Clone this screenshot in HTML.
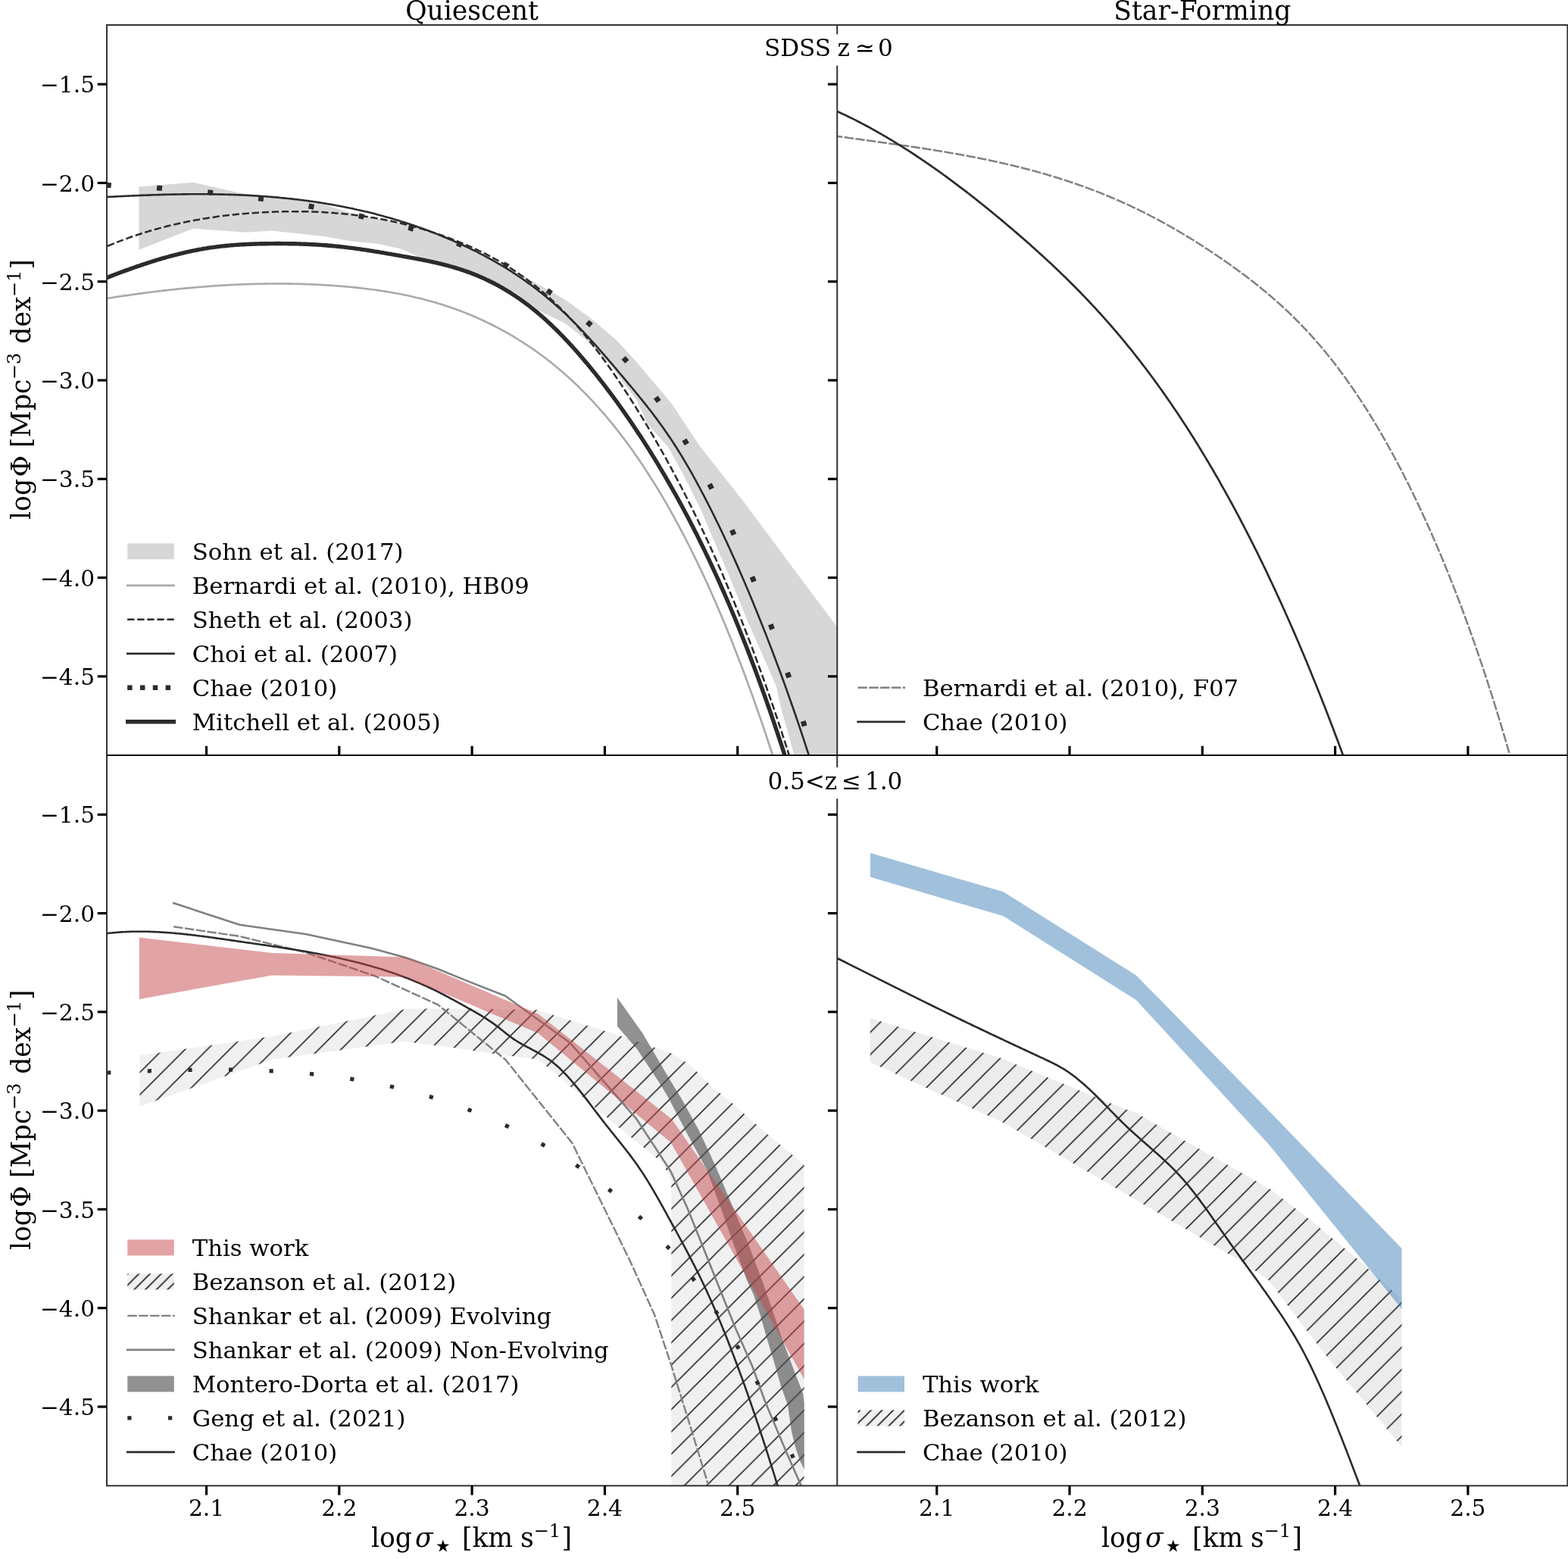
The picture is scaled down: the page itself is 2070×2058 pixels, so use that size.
<!DOCTYPE html>
<html><head><meta charset="utf-8"><title>Velocity dispersion functions</title>
<style>html,body{margin:0;padding:0;background:#fff;} body{width:2070px;height:2058px;overflow:hidden;}</style>
</head><body>
<svg width="2070" height="2058" viewBox="0 0 2070 2058" style="display:block">
<rect x="0" y="0" width="2070" height="2058" fill="#ffffff"/>
<defs>
<clipPath id="cTL"><rect x="141.0" y="33.0" width="964.2" height="964.1"/></clipPath>
<clipPath id="cTR"><rect x="1105.2" y="33.0" width="964.2" height="964.1"/></clipPath>
<clipPath id="cBL"><rect x="141.0" y="997.1" width="964.2" height="964.2"/></clipPath>
<clipPath id="cBR"><rect x="1105.2" y="997.1" width="964.2" height="964.2"/></clipPath>
<pattern id="hatch" patternUnits="userSpaceOnUse" width="29.4" height="29.4" x="12.7" y="0"><rect width="29.4" height="29.4" fill="#f0f0f0"/><path d="M-14.7 14.7 L14.7 -14.7 M0 29.4 L29.4 0 M14.7 44.099999999999994 L44.099999999999994 14.7" stroke="#111" stroke-width="1.5"/></pattern>
<pattern id="hatch2" patternUnits="userSpaceOnUse" width="29.4" height="29.4" x="12.7" y="0"><rect width="29.4" height="29.4" fill="#ececec"/><path d="M-14.7 14.7 L14.7 -14.7 M0 29.4 L29.4 0 M14.7 44.099999999999994 L44.099999999999994 14.7" stroke="#111" stroke-width="1.5"/></pattern>
<pattern id="hatchL" patternUnits="userSpaceOnUse" width="14.7" height="14.7" x="12.7" y="0"><rect width="14.7" height="14.7" fill="#f0f0f0"/><path d="M-7.35 7.35 L7.35 -7.35 M0 14.7 L14.7 0 M7.35 22.049999999999997 L22.049999999999997 7.35" stroke="#1a1a1a" stroke-width="1.6"/></pattern>
</defs>
<g clip-path="url(#cTL)">
<path d="M183.4 246.4 L254.8 240.8 L322.8 256.1 L358.0 259.5 L429.0 270.0 L466.3 282.5 L530.0 294.3 L602.0 318.0 L664.0 350.0 L721.2 381.2 L745.0 395.0 L779.9 419.9 L814.9 449.9 L840.0 477.4 L887.4 533.7 L923.7 588.7 L980.0 659.9 L1002.4 690.0 L1060.0 767.4 L1110.0 834.0 L1110.0 1000.0 L1048.3 1000.0 L1048.3 996.6 L1029.9 930.0 L1025.0 906.6 L1012.4 877.4 L995.8 840.0 L987.4 821.2 L962.5 760.0 L938.7 704.8 L926.2 674.9 L904.0 629.9 L882.0 589.9 L855.0 560.0 L840.0 527.4 L804.9 481.1 L773.7 448.7 L745.0 426.2 L711.2 410.0 L680.0 386.2 L635.9 367.0 L592.5 353.2 L556.2 340.6 L530.0 328.8 L498.0 321.7 L464.4 318.5 L427.1 312.0 L358.2 304.5 L324.7 306.8 L254.8 301.7 L183.4 329.7 Z" fill="#d7d7d7" stroke="none" />
<path d="M130.0 395.7 L132.0 395.4 L134.0 395.1 L136.0 394.8 L138.0 394.4 L140.0 394.1 L142.0 393.8 L144.0 393.5 L146.0 393.2 L148.0 392.9 L150.0 392.5 L152.0 392.2 L154.0 391.9 L156.0 391.6 L158.0 391.3 L160.0 391.0 L162.0 390.7 L164.0 390.4 L166.0 390.1 L168.0 389.9 L170.0 389.6 L172.0 389.3 L174.0 389.0 L176.0 388.7 L178.0 388.4 L180.0 388.2 L182.0 387.9 L184.0 387.6 L186.0 387.4 L188.0 387.1 L190.0 386.8 L192.0 386.6 L194.0 386.3 L196.0 386.0 L198.0 385.8 L200.0 385.5 L202.0 385.3 L204.0 385.0 L206.0 384.8 L208.0 384.6 L210.0 384.3 L212.0 384.1 L214.0 383.8 L216.0 383.6 L218.0 383.4 L220.0 383.2 L222.0 382.9 L224.0 382.7 L226.0 382.5 L228.0 382.3 L230.0 382.1 L232.0 381.8 L234.0 381.6 L236.0 381.4 L238.0 381.2 L240.0 381.0 L242.0 380.8 L244.0 380.6 L246.0 380.4 L248.0 380.3 L250.0 380.1 L252.0 379.9 L254.0 379.7 L256.0 379.5 L258.0 379.4 L260.0 379.2 L262.0 379.0 L264.0 378.8 L266.0 378.7 L268.0 378.5 L270.0 378.4 L272.0 378.2 L274.0 378.1 L276.0 377.9 L278.0 377.8 L280.0 377.6 L282.0 377.5 L284.0 377.3 L286.0 377.2 L288.0 377.1 L290.0 376.9 L292.0 376.8 L294.0 376.7 L296.0 376.6 L298.0 376.5 L300.0 376.4 L302.0 376.2 L304.0 376.1 L306.0 376.0 L308.0 375.9 L310.0 375.8 L312.0 375.7 L314.0 375.7 L316.0 375.6 L318.0 375.5 L320.0 375.4 L322.0 375.3 L324.0 375.2 L326.0 375.2 L328.0 375.1 L330.0 375.0 L332.0 375.0 L334.0 374.9 L336.0 374.9 L338.0 374.8 L340.0 374.8 L342.0 374.7 L344.0 374.7 L346.0 374.7 L348.0 374.6 L350.0 374.6 L352.0 374.6 L354.0 374.5 L356.0 374.5 L358.0 374.5 L360.0 374.5 L362.0 374.5 L364.0 374.5 L366.0 374.5 L368.0 374.5 L370.0 374.5 L372.0 374.5 L374.0 374.5 L376.0 374.5 L378.0 374.5 L380.0 374.6 L382.0 374.6 L384.0 374.6 L386.0 374.7 L388.0 374.7 L390.0 374.7 L392.0 374.8 L394.0 374.8 L396.0 374.9 L398.0 374.9 L400.0 375.0 L402.0 375.1 L404.0 375.1 L406.0 375.2 L408.0 375.3 L410.0 375.4 L412.0 375.4 L414.0 375.5 L416.0 375.6 L418.0 375.7 L420.0 375.8 L422.0 375.9 L424.0 376.0 L426.0 376.1 L428.0 376.3 L430.0 376.4 L432.0 376.5 L434.0 376.6 L436.0 376.8 L438.0 376.9 L440.0 377.0 L442.0 377.2 L444.0 377.3 L446.0 377.5 L448.0 377.6 L450.0 377.8 L452.0 378.0 L454.0 378.1 L456.0 378.3 L458.0 378.5 L460.0 378.7 L462.0 378.8 L464.0 379.0 L466.0 379.2 L468.0 379.4 L470.0 379.6 L472.0 379.8 L474.0 380.1 L476.0 380.3 L478.0 380.5 L480.0 380.7 L482.0 381.0 L484.0 381.2 L486.0 381.5 L488.0 381.7 L490.0 382.0 L492.0 382.2 L494.0 382.5 L496.0 382.8 L498.0 383.1 L500.0 383.4 L502.0 383.7 L504.0 384.0 L506.0 384.3 L508.0 384.6 L510.0 384.9 L512.0 385.2 L514.0 385.6 L516.0 385.9 L518.0 386.3 L520.0 386.6 L522.0 387.0 L524.0 387.3 L526.0 387.7 L528.0 388.1 L530.0 388.5 L532.0 388.9 L534.0 389.3 L536.0 389.7 L538.0 390.1 L540.0 390.6 L542.0 391.0 L544.0 391.5 L546.0 391.9 L548.0 392.4 L550.0 392.9 L552.0 393.3 L554.0 393.8 L556.0 394.3 L558.0 394.8 L560.0 395.3 L562.0 395.9 L564.0 396.4 L566.0 396.9 L568.0 397.5 L570.0 398.1 L572.0 398.6 L574.0 399.2 L576.0 399.8 L578.0 400.4 L580.0 401.0 L582.0 401.6 L584.0 402.2 L586.0 402.9 L588.0 403.5 L590.0 404.2 L592.0 404.8 L594.0 405.5 L596.0 406.2 L598.0 406.9 L600.0 407.6 L602.0 408.3 L604.0 409.1 L606.0 409.8 L608.0 410.6 L610.0 411.3 L612.0 412.1 L614.0 412.9 L616.0 413.7 L618.0 414.5 L620.0 415.3 L622.0 416.1 L624.0 417.0 L626.0 417.8 L628.0 418.7 L630.0 419.6 L632.0 420.5 L634.0 421.4 L636.0 422.3 L638.0 423.2 L640.0 424.1 L642.0 425.1 L644.0 426.1 L646.0 427.0 L648.0 428.0 L650.0 429.0 L652.0 430.0 L654.0 431.1 L656.0 432.1 L658.0 433.1 L660.0 434.2 L662.0 435.3 L664.0 436.4 L666.0 437.5 L668.0 438.6 L670.0 439.7 L672.0 440.9 L674.0 442.0 L676.0 443.2 L678.0 444.4 L680.0 445.6 L682.0 446.8 L684.0 448.0 L686.0 449.3 L688.0 450.5 L690.0 451.8 L692.0 453.1 L694.0 454.4 L696.0 455.7 L698.0 457.0 L700.0 458.4 L702.0 459.8 L704.0 461.1 L706.0 462.5 L708.0 464.0 L710.0 465.4 L712.0 466.8 L714.0 468.3 L716.0 469.8 L718.0 471.3 L720.0 472.8 L722.0 474.3 L724.0 475.9 L726.0 477.4 L728.0 479.0 L730.0 480.6 L732.0 482.2 L734.0 483.9 L736.0 485.5 L738.0 487.2 L740.0 488.9 L742.0 490.6 L744.0 492.4 L746.0 494.1 L748.0 495.9 L750.0 497.7 L752.0 499.5 L754.0 501.3 L756.0 503.2 L758.0 505.1 L760.0 507.0 L762.0 508.9 L764.0 510.8 L766.0 512.8 L768.0 514.8 L770.0 516.8 L772.0 518.8 L774.0 520.8 L776.0 522.9 L778.0 525.0 L780.0 527.1 L782.0 529.2 L784.0 531.4 L786.0 533.6 L788.0 535.8 L790.0 538.0 L792.0 540.3 L794.0 542.5 L796.0 544.8 L798.0 547.2 L800.0 549.5 L802.0 551.9 L804.0 554.3 L806.0 556.7 L808.0 559.1 L810.0 561.6 L812.0 564.1 L814.0 566.6 L816.0 569.2 L818.0 571.8 L820.0 574.4 L822.0 577.0 L824.0 579.6 L826.0 582.3 L828.0 585.0 L830.0 587.7 L832.0 590.5 L834.0 593.3 L836.0 596.1 L838.0 598.9 L840.0 601.8 L842.0 604.7 L844.0 607.6 L846.0 610.6 L848.0 613.5 L850.0 616.6 L852.0 619.6 L854.0 622.7 L856.0 625.7 L858.0 628.9 L860.0 632.0 L862.0 635.2 L864.0 638.4 L866.0 641.7 L868.0 644.9 L870.0 648.2 L872.0 651.6 L874.0 654.9 L876.0 658.3 L878.0 661.8 L880.0 665.2 L882.0 668.7 L884.0 672.2 L886.0 675.8 L888.0 679.4 L890.0 683.0 L892.0 686.6 L894.0 690.3 L896.0 694.0 L898.0 697.8 L900.0 701.6 L902.0 705.4 L904.0 709.2 L906.0 713.1 L908.0 717.0 L910.0 721.0 L912.0 725.0 L914.0 729.0 L916.0 733.0 L918.0 737.1 L920.0 741.3 L922.0 745.4 L924.0 749.6 L926.0 753.9 L928.0 758.1 L930.0 762.4 L932.0 766.8 L934.0 771.1 L936.0 775.6 L938.0 780.0 L940.0 784.5 L942.0 789.0 L944.0 793.6 L946.0 798.2 L948.0 802.8 L950.0 807.5 L952.0 812.2 L954.0 817.0 L956.0 821.8 L958.0 826.6 L960.0 831.5 L962.0 836.4 L964.0 841.3 L966.0 846.3 L968.0 851.4 L970.0 856.4 L972.0 861.5 L974.0 866.7 L976.0 871.9 L978.0 877.1 L980.0 882.4 L982.0 887.7 L984.0 893.0 L986.0 898.4 L988.0 903.9 L990.0 909.4 L992.0 914.9 L994.0 920.4 L996.0 926.1 L998.0 931.7 L1000.0 937.4 L1002.0 943.1 L1004.0 948.9 L1006.0 954.7 L1008.0 960.6 L1010.0 966.5 L1012.0 972.5 L1014.0 978.5 L1016.0 984.5 L1018.0 990.6 L1020.0 996.7 L1022.0 1002.9 L1024.0 1009.1 L1026.0 1015.4 L1028.0 1021.7" fill="none" stroke="#a9a9a9" stroke-width="2.6" stroke-linejoin="round" />
<path d="M130.0 330.0 L132.0 329.1 L134.0 328.2 L136.0 327.4 L138.0 326.5 L140.0 325.6 L142.0 324.8 L144.0 324.0 L146.0 323.1 L148.0 322.3 L150.0 321.5 L152.0 320.7 L154.0 319.9 L156.0 319.1 L158.0 318.4 L160.0 317.6 L162.0 316.9 L164.0 316.1 L166.0 315.4 L168.0 314.7 L170.0 313.9 L172.0 313.2 L174.0 312.5 L176.0 311.8 L178.0 311.2 L180.0 310.5 L182.0 309.8 L184.0 309.2 L186.0 308.5 L188.0 307.9 L190.0 307.3 L192.0 306.6 L194.0 306.0 L196.0 305.4 L198.0 304.8 L200.0 304.2 L202.0 303.7 L204.0 303.1 L206.0 302.5 L208.0 302.0 L210.0 301.4 L212.0 300.9 L214.0 300.4 L216.0 299.8 L218.0 299.3 L220.0 298.8 L222.0 298.3 L224.0 297.8 L226.0 297.3 L228.0 296.9 L230.0 296.4 L232.0 295.9 L234.0 295.5 L236.0 295.0 L238.0 294.6 L240.0 294.1 L242.0 293.7 L244.0 293.3 L246.0 292.9 L248.0 292.5 L250.0 292.1 L252.0 291.7 L254.0 291.3 L256.0 290.9 L258.0 290.6 L260.0 290.2 L262.0 289.9 L264.0 289.5 L266.0 289.2 L268.0 288.8 L270.0 288.5 L272.0 288.2 L274.0 287.9 L276.0 287.6 L278.0 287.3 L280.0 287.0 L282.0 286.7 L284.0 286.4 L286.0 286.1 L288.0 285.8 L290.0 285.6 L292.0 285.3 L294.0 285.0 L296.0 284.8 L298.0 284.6 L300.0 284.3 L302.0 284.1 L304.0 283.9 L306.0 283.7 L308.0 283.4 L310.0 283.2 L312.0 283.0 L314.0 282.8 L316.0 282.6 L318.0 282.5 L320.0 282.3 L322.0 282.1 L324.0 281.9 L326.0 281.8 L328.0 281.6 L330.0 281.5 L332.0 281.3 L334.0 281.2 L336.0 281.0 L338.0 280.9 L340.0 280.8 L342.0 280.6 L344.0 280.5 L346.0 280.4 L348.0 280.3 L350.0 280.2 L352.0 280.1 L354.0 280.0 L356.0 279.9 L358.0 279.8 L360.0 279.7 L362.0 279.7 L364.0 279.6 L366.0 279.5 L368.0 279.5 L370.0 279.4 L372.0 279.4 L374.0 279.3 L376.0 279.3 L378.0 279.2 L380.0 279.2 L382.0 279.2 L384.0 279.2 L386.0 279.2 L388.0 279.2 L390.0 279.2 L392.0 279.2 L394.0 279.2 L396.0 279.2 L398.0 279.2 L400.0 279.2 L402.0 279.3 L404.0 279.3 L406.0 279.3 L408.0 279.4 L410.0 279.5 L412.0 279.5 L414.0 279.6 L416.0 279.7 L418.0 279.7 L420.0 279.8 L422.0 279.9 L424.0 280.0 L426.0 280.1 L428.0 280.2 L430.0 280.4 L432.0 280.5 L434.0 280.6 L436.0 280.7 L438.0 280.9 L440.0 281.0 L442.0 281.2 L444.0 281.4 L446.0 281.5 L448.0 281.7 L450.0 281.9 L452.0 282.1 L454.0 282.3 L456.0 282.5 L458.0 282.7 L460.0 282.9 L462.0 283.1 L464.0 283.3 L466.0 283.6 L468.0 283.8 L470.0 284.1 L472.0 284.3 L474.0 284.6 L476.0 284.9 L478.0 285.1 L480.0 285.4 L482.0 285.7 L484.0 286.0 L486.0 286.3 L488.0 286.6 L490.0 287.0 L492.0 287.3 L494.0 287.6 L496.0 288.0 L498.0 288.3 L500.0 288.7 L502.0 289.0 L504.0 289.4 L506.0 289.8 L508.0 290.2 L510.0 290.6 L512.0 291.0 L514.0 291.4 L516.0 291.8 L518.0 292.3 L520.0 292.7 L522.0 293.1 L524.0 293.6 L526.0 294.0 L528.0 294.5 L530.0 295.0 L532.0 295.5 L534.0 296.0 L536.0 296.5 L538.0 297.0 L540.0 297.5 L542.0 298.0 L544.0 298.5 L546.0 299.1 L548.0 299.6 L550.0 300.2 L552.0 300.7 L554.0 301.3 L556.0 301.9 L558.0 302.5 L560.0 303.1 L562.0 303.7 L564.0 304.3 L566.0 304.9 L568.0 305.6 L570.0 306.2 L572.0 306.9 L574.0 307.5 L576.0 308.2 L578.0 308.9 L580.0 309.6 L582.0 310.3 L584.0 311.0 L586.0 311.7 L588.0 312.4 L590.0 313.1 L592.0 313.9 L594.0 314.6 L596.0 315.4 L598.0 316.2 L600.0 316.9 L602.0 317.7 L604.0 318.5 L606.0 319.3 L608.0 320.1 L610.0 321.0 L612.0 321.8 L614.0 322.6 L616.0 323.5 L618.0 324.4 L620.0 325.2 L622.0 326.1 L624.0 327.0 L626.0 327.9 L628.0 328.9 L630.0 329.8 L632.0 330.8 L634.0 331.7 L636.0 332.7 L638.0 333.7 L640.0 334.7 L642.0 335.7 L644.0 336.7 L646.0 337.8 L648.0 338.8 L650.0 339.9 L652.0 341.0 L654.0 342.1 L656.0 343.2 L658.0 344.4 L660.0 345.5 L662.0 346.7 L664.0 347.9 L666.0 349.1 L668.0 350.3 L670.0 351.5 L672.0 352.8 L674.0 354.0 L676.0 355.3 L678.0 356.6 L680.0 357.9 L682.0 359.3 L684.0 360.6 L686.0 362.0 L688.0 363.4 L690.0 364.8 L692.0 366.2 L694.0 367.7 L696.0 369.2 L698.0 370.7 L700.0 372.2 L702.0 373.7 L704.0 375.3 L706.0 376.8 L708.0 378.4 L710.0 380.1 L712.0 381.7 L714.0 383.4 L716.0 385.1 L718.0 386.8 L720.0 388.5 L722.0 390.2 L724.0 392.0 L726.0 393.8 L728.0 395.6 L730.0 397.5 L732.0 399.4 L734.0 401.3 L736.0 403.2 L738.0 405.1 L740.0 407.1 L742.0 409.1 L744.0 411.1 L746.0 413.2 L748.0 415.2 L750.0 417.3 L752.0 419.5 L754.0 421.6 L756.0 423.8 L758.0 426.0 L760.0 428.2 L762.0 430.5 L764.0 432.8 L766.0 435.1 L768.0 437.5 L770.0 439.8 L772.0 442.2 L774.0 444.7 L776.0 447.1 L778.0 449.6 L780.0 452.1 L782.0 454.7 L784.0 457.2 L786.0 459.8 L788.0 462.4 L790.0 465.1 L792.0 467.8 L794.0 470.4 L796.0 473.2 L798.0 475.9 L800.0 478.7 L802.0 481.5 L804.0 484.3 L806.0 487.1 L808.0 490.0 L810.0 492.9 L812.0 495.8 L814.0 498.7 L816.0 501.7 L818.0 504.6 L820.0 507.6 L822.0 510.7 L824.0 513.7 L826.0 516.8 L828.0 519.8 L830.0 523.0 L832.0 526.1 L834.0 529.2 L836.0 532.4 L838.0 535.6 L840.0 538.8 L842.0 542.0 L844.0 545.2 L846.0 548.5 L848.0 551.7 L850.0 555.0 L852.0 558.4 L854.0 561.7 L856.0 565.0 L858.0 568.4 L860.0 571.8 L862.0 575.2 L864.0 578.6 L866.0 582.1 L868.0 585.6 L870.0 589.1 L872.0 592.6 L874.0 596.1 L876.0 599.7 L878.0 603.3 L880.0 606.9 L882.0 610.5 L884.0 614.2 L886.0 617.9 L888.0 621.6 L890.0 625.3 L892.0 629.0 L894.0 632.8 L896.0 636.6 L898.0 640.4 L900.0 644.3 L902.0 648.1 L904.0 652.0 L906.0 656.0 L908.0 659.9 L910.0 663.9 L912.0 667.9 L914.0 671.9 L916.0 676.0 L918.0 680.1 L920.0 684.2 L922.0 688.3 L924.0 692.5 L926.0 696.7 L928.0 700.9 L930.0 705.2 L932.0 709.5 L934.0 713.8 L936.0 718.1 L938.0 722.5 L940.0 726.9 L942.0 731.4 L944.0 735.8 L946.0 740.3 L948.0 744.9 L950.0 749.4 L952.0 754.0 L954.0 758.6 L956.0 763.3 L958.0 768.0 L960.0 772.7 L962.0 777.5 L964.0 782.2 L966.0 787.1 L968.0 791.9 L970.0 796.8 L972.0 801.7 L974.0 806.7 L976.0 811.7 L978.0 816.7 L980.0 821.8 L982.0 826.9 L984.0 832.0 L986.0 837.2 L988.0 842.4 L990.0 847.6 L992.0 852.9 L994.0 858.2 L996.0 863.6 L998.0 869.0 L1000.0 874.4 L1002.0 879.9 L1004.0 885.4 L1006.0 890.9 L1008.0 896.5 L1010.0 902.1 L1012.0 907.8 L1014.0 913.5 L1016.0 919.3 L1018.0 925.0 L1020.0 930.9 L1022.0 936.7 L1024.0 942.6 L1026.0 948.6 L1028.0 954.6 L1030.0 960.6 L1032.0 966.7 L1034.0 972.8 L1036.0 978.9 L1038.0 985.1 L1040.0 991.4 L1042.0 997.7 L1044.0 1004.0 L1046.0 1010.4 L1048.0 1016.8 L1050.0 1023.2" fill="none" stroke="#2b2b2b" stroke-width="2.5" stroke-linejoin="round" stroke-dasharray="9.3 3.8" />
<path d="M130.0 260.7 L132.0 260.6 L134.0 260.5 L136.0 260.4 L138.0 260.3 L140.0 260.2 L142.0 260.0 L144.0 259.9 L146.0 259.8 L148.0 259.7 L150.0 259.6 L152.0 259.5 L154.0 259.4 L156.0 259.3 L158.0 259.2 L160.0 259.1 L162.0 259.0 L164.0 258.9 L166.0 258.8 L168.0 258.7 L170.0 258.6 L172.0 258.5 L174.0 258.5 L176.0 258.4 L178.0 258.3 L180.0 258.2 L182.0 258.1 L184.0 258.0 L186.0 257.9 L188.0 257.9 L190.0 257.8 L192.0 257.7 L194.0 257.6 L196.0 257.6 L198.0 257.5 L200.0 257.4 L202.0 257.3 L204.0 257.3 L206.0 257.2 L208.0 257.2 L210.0 257.1 L212.0 257.0 L214.0 257.0 L216.0 256.9 L218.0 256.9 L220.0 256.8 L222.0 256.8 L224.0 256.7 L226.0 256.7 L228.0 256.6 L230.0 256.6 L232.0 256.6 L234.0 256.5 L236.0 256.5 L238.0 256.5 L240.0 256.4 L242.0 256.4 L244.0 256.4 L246.0 256.4 L248.0 256.3 L250.0 256.3 L252.0 256.3 L254.0 256.3 L256.0 256.3 L258.0 256.3 L260.0 256.3 L262.0 256.3 L264.0 256.3 L266.0 256.3 L268.0 256.3 L270.0 256.3 L272.0 256.3 L274.0 256.3 L276.0 256.3 L278.0 256.4 L280.0 256.4 L282.0 256.4 L284.0 256.4 L286.0 256.5 L288.0 256.5 L290.0 256.6 L292.0 256.6 L294.0 256.6 L296.0 256.7 L298.0 256.7 L300.0 256.8 L302.0 256.9 L304.0 256.9 L306.0 257.0 L308.0 257.0 L310.0 257.1 L312.0 257.2 L314.0 257.3 L316.0 257.4 L318.0 257.4 L320.0 257.5 L322.0 257.6 L324.0 257.7 L326.0 257.8 L328.0 257.9 L330.0 258.0 L332.0 258.1 L334.0 258.3 L336.0 258.4 L338.0 258.5 L340.0 258.6 L342.0 258.7 L344.0 258.9 L346.0 259.0 L348.0 259.2 L350.0 259.3 L352.0 259.5 L354.0 259.6 L356.0 259.8 L358.0 259.9 L360.0 260.1 L362.0 260.3 L364.0 260.4 L366.0 260.6 L368.0 260.8 L370.0 261.0 L372.0 261.2 L374.0 261.4 L376.0 261.6 L378.0 261.8 L380.0 262.0 L382.0 262.2 L384.0 262.4 L386.0 262.6 L388.0 262.9 L390.0 263.1 L392.0 263.3 L394.0 263.6 L396.0 263.8 L398.0 264.1 L400.0 264.3 L402.0 264.6 L404.0 264.8 L406.0 265.1 L408.0 265.4 L410.0 265.7 L412.0 265.9 L414.0 266.2 L416.0 266.5 L418.0 266.8 L420.0 267.1 L422.0 267.4 L424.0 267.7 L426.0 268.1 L428.0 268.4 L430.0 268.7 L432.0 269.0 L434.0 269.4 L436.0 269.7 L438.0 270.1 L440.0 270.4 L442.0 270.8 L444.0 271.2 L446.0 271.5 L448.0 271.9 L450.0 272.3 L452.0 272.7 L454.0 273.1 L456.0 273.5 L458.0 273.9 L460.0 274.3 L462.0 274.7 L464.0 275.1 L466.0 275.5 L468.0 276.0 L470.0 276.4 L472.0 276.9 L474.0 277.3 L476.0 277.8 L478.0 278.2 L480.0 278.7 L482.0 279.2 L484.0 279.6 L486.0 280.1 L488.0 280.6 L490.0 281.1 L492.0 281.6 L494.0 282.1 L496.0 282.6 L498.0 283.2 L500.0 283.7 L502.0 284.2 L504.0 284.8 L506.0 285.3 L508.0 285.9 L510.0 286.4 L512.0 287.0 L514.0 287.6 L516.0 288.1 L518.0 288.7 L520.0 289.3 L522.0 289.9 L524.0 290.5 L526.0 291.1 L528.0 291.7 L530.0 292.4 L532.0 293.0 L534.0 293.6 L536.0 294.3 L538.0 294.9 L540.0 295.6 L542.0 296.2 L544.0 296.9 L546.0 297.6 L548.0 298.3 L550.0 299.0 L552.0 299.7 L554.0 300.4 L556.0 301.1 L558.0 301.8 L560.0 302.5 L562.0 303.3 L564.0 304.0 L566.0 304.8 L568.0 305.5 L570.0 306.3 L572.0 307.1 L574.0 307.8 L576.0 308.6 L578.0 309.4 L580.0 310.2 L582.0 311.0 L584.0 311.8 L586.0 312.7 L588.0 313.5 L590.0 314.3 L592.0 315.2 L594.0 316.0 L596.0 316.9 L598.0 317.7 L600.0 318.6 L602.0 319.5 L604.0 320.4 L606.0 321.3 L608.0 322.2 L610.0 323.1 L612.0 324.0 L614.0 325.0 L616.0 325.9 L618.0 326.9 L620.0 327.8 L622.0 328.8 L624.0 329.8 L626.0 330.7 L628.0 331.7 L630.0 332.7 L632.0 333.8 L634.0 334.8 L636.0 335.8 L638.0 336.9 L640.0 337.9 L642.0 339.0 L644.0 340.1 L646.0 341.2 L648.0 342.3 L650.0 343.4 L652.0 344.5 L654.0 345.7 L656.0 346.8 L658.0 348.0 L660.0 349.1 L662.0 350.3 L664.0 351.5 L666.0 352.7 L668.0 354.0 L670.0 355.2 L672.0 356.5 L674.0 357.7 L676.0 359.0 L678.0 360.3 L680.0 361.6 L682.0 362.9 L684.0 364.3 L686.0 365.6 L688.0 367.0 L690.0 368.4 L692.0 369.8 L694.0 371.2 L696.0 372.6 L698.0 374.1 L700.0 375.5 L702.0 377.0 L704.0 378.5 L706.0 380.0 L708.0 381.5 L710.0 383.1 L712.0 384.7 L714.0 386.2 L716.0 387.8 L718.0 389.4 L720.0 391.1 L722.0 392.7 L724.0 394.4 L726.0 396.1 L728.0 397.8 L730.0 399.5 L732.0 401.2 L734.0 403.0 L736.0 404.8 L738.0 406.6 L740.0 408.4 L742.0 410.2 L744.0 412.1 L746.0 413.9 L748.0 415.8 L750.0 417.8 L752.0 419.7 L754.0 421.6 L756.0 423.6 L758.0 425.6 L760.0 427.6 L762.0 429.7 L764.0 431.7 L766.0 433.8 L768.0 435.9 L770.0 438.0 L772.0 440.1 L774.0 442.3 L776.0 444.4 L778.0 446.6 L780.0 448.8 L782.0 451.0 L784.0 453.2 L786.0 455.4 L788.0 457.7 L790.0 459.9 L792.0 462.2 L794.0 464.5 L796.0 466.8 L798.0 469.1 L800.0 471.4 L802.0 473.7 L804.0 476.0 L806.0 478.3 L808.0 480.7 L810.0 483.0 L812.0 485.4 L814.0 487.7 L816.0 490.1 L818.0 492.5 L820.0 494.8 L822.0 497.2 L824.0 499.6 L826.0 502.0 L828.0 504.4 L830.0 506.8 L832.0 509.1 L834.0 511.5 L836.0 514.0 L838.0 516.4 L840.0 518.8 L842.0 521.2 L844.0 523.7 L846.0 526.1 L848.0 528.6 L850.0 531.1 L852.0 533.6 L854.0 536.1 L856.0 538.7 L858.0 541.3 L860.0 543.8 L862.0 546.5 L864.0 549.1 L866.0 551.8 L868.0 554.5 L870.0 557.2 L872.0 559.9 L874.0 562.7 L876.0 565.5 L878.0 568.4 L880.0 571.2 L882.0 574.2 L884.0 577.1 L886.0 580.1 L888.0 583.1 L890.0 586.2 L892.0 589.3 L894.0 592.5 L896.0 595.7 L898.0 598.9 L900.0 602.2 L902.0 605.5 L904.0 608.9 L906.0 612.3 L908.0 615.7 L910.0 619.2 L912.0 622.7 L914.0 626.2 L916.0 629.8 L918.0 633.4 L920.0 637.1 L922.0 640.8 L924.0 644.5 L926.0 648.3 L928.0 652.1 L930.0 655.9 L932.0 659.8 L934.0 663.6 L936.0 667.6 L938.0 671.5 L940.0 675.5 L942.0 679.5 L944.0 683.6 L946.0 687.7 L948.0 691.8 L950.0 695.9 L952.0 700.1 L954.0 704.3 L956.0 708.6 L958.0 712.8 L960.0 717.1 L962.0 721.5 L964.0 725.8 L966.0 730.2 L968.0 734.7 L970.0 739.1 L972.0 743.6 L974.0 748.1 L976.0 752.7 L978.0 757.3 L980.0 761.9 L982.0 766.5 L984.0 771.2 L986.0 775.9 L988.0 780.6 L990.0 785.4 L992.0 790.2 L994.0 795.0 L996.0 799.9 L998.0 804.8 L1000.0 809.7 L1002.0 814.7 L1004.0 819.7 L1006.0 824.7 L1008.0 829.7 L1010.0 834.8 L1012.0 839.9 L1014.0 845.1 L1016.0 850.2 L1018.0 855.4 L1020.0 860.7 L1022.0 866.0 L1024.0 871.3 L1026.0 876.6 L1028.0 882.0 L1030.0 887.4 L1032.0 892.8 L1034.0 898.3 L1036.0 903.8 L1038.0 909.4 L1040.0 915.0 L1042.0 920.6 L1044.0 926.3 L1046.0 932.0 L1048.0 937.7 L1050.0 943.5 L1052.0 949.4 L1054.0 955.2 L1056.0 961.2 L1058.0 967.1 L1060.0 973.1 L1062.0 979.2 L1064.0 985.3 L1066.0 991.4 L1068.0 997.6 L1070.0 1003.8 L1072.0 1010.1 L1074.0 1016.4 L1076.0 1022.8" fill="none" stroke="#2b2b2b" stroke-width="2.6" stroke-linejoin="round" />
<path d="M130.0 370.9 L132.0 370.1 L134.0 369.3 L136.0 368.5 L138.0 367.7 L140.0 367.0 L142.0 366.2 L144.0 365.4 L146.0 364.6 L148.0 363.9 L150.0 363.1 L152.0 362.3 L154.0 361.6 L156.0 360.8 L158.0 360.1 L160.0 359.3 L162.0 358.6 L164.0 357.8 L166.0 357.1 L168.0 356.4 L170.0 355.7 L172.0 354.9 L174.0 354.2 L176.0 353.5 L178.0 352.8 L180.0 352.1 L182.0 351.4 L184.0 350.8 L186.0 350.1 L188.0 349.4 L190.0 348.7 L192.0 348.1 L194.0 347.4 L196.0 346.8 L198.0 346.1 L200.0 345.5 L202.0 344.9 L204.0 344.2 L206.0 343.6 L208.0 343.0 L210.0 342.4 L212.0 341.8 L214.0 341.2 L216.0 340.7 L218.0 340.1 L220.0 339.5 L222.0 339.0 L224.0 338.4 L226.0 337.9 L228.0 337.3 L230.0 336.8 L232.0 336.3 L234.0 335.8 L236.0 335.3 L238.0 334.8 L240.0 334.3 L242.0 333.8 L244.0 333.4 L246.0 332.9 L248.0 332.5 L250.0 332.0 L252.0 331.6 L254.0 331.2 L256.0 330.8 L258.0 330.4 L260.0 330.0 L262.0 329.6 L264.0 329.2 L266.0 328.9 L268.0 328.5 L270.0 328.2 L272.0 327.9 L274.0 327.5 L276.0 327.2 L278.0 326.9 L280.0 326.6 L282.0 326.4 L284.0 326.1 L286.0 325.8 L288.0 325.6 L290.0 325.3 L292.0 325.1 L294.0 324.9 L296.0 324.7 L298.0 324.5 L300.0 324.3 L302.0 324.1 L304.0 323.9 L306.0 323.7 L308.0 323.6 L310.0 323.4 L312.0 323.3 L314.0 323.1 L316.0 323.0 L318.0 322.9 L320.0 322.8 L322.0 322.7 L324.0 322.5 L326.0 322.4 L328.0 322.4 L330.0 322.3 L332.0 322.2 L334.0 322.1 L336.0 322.0 L338.0 322.0 L340.0 321.9 L342.0 321.9 L344.0 321.8 L346.0 321.8 L348.0 321.7 L350.0 321.7 L352.0 321.7 L354.0 321.6 L356.0 321.6 L358.0 321.6 L360.0 321.6 L362.0 321.6 L364.0 321.5 L366.0 321.5 L368.0 321.5 L370.0 321.5 L372.0 321.6 L374.0 321.6 L376.0 321.6 L378.0 321.6 L380.0 321.6 L382.0 321.7 L384.0 321.7 L386.0 321.7 L388.0 321.8 L390.0 321.8 L392.0 321.9 L394.0 321.9 L396.0 322.0 L398.0 322.1 L400.0 322.1 L402.0 322.2 L404.0 322.3 L406.0 322.4 L408.0 322.5 L410.0 322.6 L412.0 322.7 L414.0 322.8 L416.0 322.9 L418.0 323.0 L420.0 323.1 L422.0 323.3 L424.0 323.4 L426.0 323.5 L428.0 323.7 L430.0 323.8 L432.0 324.0 L434.0 324.2 L436.0 324.3 L438.0 324.5 L440.0 324.7 L442.0 324.9 L444.0 325.1 L446.0 325.3 L448.0 325.5 L450.0 325.7 L452.0 325.9 L454.0 326.1 L456.0 326.4 L458.0 326.6 L460.0 326.9 L462.0 327.1 L464.0 327.4 L466.0 327.6 L468.0 327.9 L470.0 328.2 L472.0 328.4 L474.0 328.7 L476.0 329.0 L478.0 329.3 L480.0 329.6 L482.0 329.9 L484.0 330.2 L486.0 330.5 L488.0 330.8 L490.0 331.1 L492.0 331.4 L494.0 331.8 L496.0 332.1 L498.0 332.4 L500.0 332.7 L502.0 333.1 L504.0 333.4 L506.0 333.7 L508.0 334.1 L510.0 334.4 L512.0 334.8 L514.0 335.1 L516.0 335.4 L518.0 335.8 L520.0 336.1 L522.0 336.5 L524.0 336.8 L526.0 337.2 L528.0 337.6 L530.0 337.9 L532.0 338.3 L534.0 338.6 L536.0 339.0 L538.0 339.3 L540.0 339.7 L542.0 340.1 L544.0 340.4 L546.0 340.8 L548.0 341.2 L550.0 341.5 L552.0 341.9 L554.0 342.3 L556.0 342.7 L558.0 343.1 L560.0 343.5 L562.0 343.9 L564.0 344.3 L566.0 344.7 L568.0 345.2 L570.0 345.6 L572.0 346.0 L574.0 346.5 L576.0 346.9 L578.0 347.4 L580.0 347.9 L582.0 348.4 L584.0 348.9 L586.0 349.4 L588.0 349.9 L590.0 350.4 L592.0 350.9 L594.0 351.5 L596.0 352.0 L598.0 352.6 L600.0 353.2 L602.0 353.8 L604.0 354.4 L606.0 355.0 L608.0 355.7 L610.0 356.3 L612.0 357.0 L614.0 357.7 L616.0 358.4 L618.0 359.1 L620.0 359.8 L622.0 360.6 L624.0 361.4 L626.0 362.1 L628.0 362.9 L630.0 363.8 L632.0 364.6 L634.0 365.5 L636.0 366.3 L638.0 367.2 L640.0 368.1 L642.0 369.1 L644.0 370.0 L646.0 371.0 L648.0 372.0 L650.0 373.0 L652.0 374.0 L654.0 375.0 L656.0 376.1 L658.0 377.2 L660.0 378.3 L662.0 379.4 L664.0 380.6 L666.0 381.8 L668.0 382.9 L670.0 384.2 L672.0 385.4 L674.0 386.6 L676.0 387.9 L678.0 389.2 L680.0 390.5 L682.0 391.9 L684.0 393.2 L686.0 394.6 L688.0 396.0 L690.0 397.5 L692.0 398.9 L694.0 400.4 L696.0 401.9 L698.0 403.4 L700.0 405.0 L702.0 406.6 L704.0 408.2 L706.0 409.8 L708.0 411.4 L710.0 413.1 L712.0 414.8 L714.0 416.5 L716.0 418.3 L718.0 420.0 L720.0 421.8 L722.0 423.6 L724.0 425.5 L726.0 427.3 L728.0 429.2 L730.0 431.2 L732.0 433.1 L734.0 435.0 L736.0 437.0 L738.0 439.0 L740.0 441.1 L742.0 443.1 L744.0 445.2 L746.0 447.3 L748.0 449.4 L750.0 451.5 L752.0 453.7 L754.0 455.9 L756.0 458.1 L758.0 460.3 L760.0 462.5 L762.0 464.8 L764.0 467.1 L766.0 469.4 L768.0 471.7 L770.0 474.0 L772.0 476.4 L774.0 478.8 L776.0 481.1 L778.0 483.6 L780.0 486.0 L782.0 488.5 L784.0 490.9 L786.0 493.4 L788.0 495.9 L790.0 498.5 L792.0 501.0 L794.0 503.6 L796.0 506.1 L798.0 508.7 L800.0 511.4 L802.0 514.0 L804.0 516.7 L806.0 519.3 L808.0 522.0 L810.0 524.7 L812.0 527.5 L814.0 530.2 L816.0 533.0 L818.0 535.8 L820.0 538.6 L822.0 541.4 L824.0 544.2 L826.0 547.1 L828.0 550.0 L830.0 552.9 L832.0 555.8 L834.0 558.7 L836.0 561.7 L838.0 564.7 L840.0 567.7 L842.0 570.7 L844.0 573.7 L846.0 576.8 L848.0 579.9 L850.0 583.0 L852.0 586.1 L854.0 589.3 L856.0 592.4 L858.0 595.6 L860.0 598.8 L862.0 602.1 L864.0 605.3 L866.0 608.6 L868.0 611.9 L870.0 615.2 L872.0 618.6 L874.0 621.9 L876.0 625.3 L878.0 628.7 L880.0 632.1 L882.0 635.6 L884.0 639.1 L886.0 642.6 L888.0 646.1 L890.0 649.7 L892.0 653.2 L894.0 656.8 L896.0 660.5 L898.0 664.1 L900.0 667.8 L902.0 671.5 L904.0 675.2 L906.0 679.0 L908.0 682.8 L910.0 686.6 L912.0 690.5 L914.0 694.3 L916.0 698.2 L918.0 702.2 L920.0 706.1 L922.0 710.1 L924.0 714.2 L926.0 718.2 L928.0 722.3 L930.0 726.4 L932.0 730.6 L934.0 734.7 L936.0 738.9 L938.0 743.2 L940.0 747.5 L942.0 751.8 L944.0 756.1 L946.0 760.5 L948.0 764.9 L950.0 769.4 L952.0 773.9 L954.0 778.4 L956.0 782.9 L958.0 787.5 L960.0 792.1 L962.0 796.8 L964.0 801.5 L966.0 806.2 L968.0 811.0 L970.0 815.8 L972.0 820.6 L974.0 825.5 L976.0 830.5 L978.0 835.4 L980.0 840.4 L982.0 845.4 L984.0 850.5 L986.0 855.6 L988.0 860.8 L990.0 866.0 L992.0 871.2 L994.0 876.5 L996.0 881.8 L998.0 887.2 L1000.0 892.6 L1002.0 898.0 L1004.0 903.5 L1006.0 909.0 L1008.0 914.6 L1010.0 920.2 L1012.0 925.8 L1014.0 931.5 L1016.0 937.2 L1018.0 943.0 L1020.0 948.8 L1022.0 954.7 L1024.0 960.6 L1026.0 966.6 L1028.0 972.6 L1030.0 978.6 L1032.0 984.7 L1034.0 990.8 L1036.0 997.0 L1038.0 1003.3 L1040.0 1009.5 L1042.0 1015.9 L1044.0 1022.2" fill="none" stroke="#2b2b2b" stroke-width="5.4" stroke-linejoin="round" />
<path d="M100.0 243.2 L101.0 243.2 L102.0 243.2 L103.0 243.3 L104.0 243.3 L105.0 243.3 L106.0 243.3 L107.0 243.4 L108.0 243.4 L109.0 243.4 L110.0 243.4 L111.0 243.5 L112.0 243.5 L113.0 243.5 L114.0 243.5 L115.0 243.6 L116.0 243.6 L117.0 243.6 L118.0 243.7 L119.0 243.7 L120.0 243.7 L121.0 243.7 L122.0 243.8 L123.0 243.8 L124.0 243.8 L125.0 243.9 L126.0 243.9 L127.0 243.9 L128.0 244.0 L129.0 244.0 L130.0 244.0 L131.0 244.1 L132.0 244.1 L133.0 244.1 L134.0 244.2 L135.0 244.2 L136.0 244.2 L137.0 244.3 L138.0 244.3 L139.0 244.4 L140.0 244.4 L141.0 244.4 L142.0 244.5 L143.0 244.5 L144.0 244.6 L145.0 244.6 L146.0 244.6 L147.0 244.7 L148.0 244.7 L149.0 244.8 L150.0 244.8 L151.0 244.9 L152.0 244.9 L153.0 244.9 L154.0 245.0 L155.0 245.0 L156.0 245.1 L157.0 245.1 L158.0 245.2 L159.0 245.2 L160.0 245.3 L161.0 245.3 L162.0 245.4 L163.0 245.4 L164.0 245.5 L165.0 245.5 L166.0 245.6 L167.0 245.6 L168.0 245.7 L169.0 245.7 L170.0 245.8 L171.0 245.8 L172.0 245.9 L173.0 245.9 L174.0 246.0 L175.0 246.0 L176.0 246.1 L177.0 246.1 L178.0 246.2 L179.0 246.3 L180.0 246.3 L181.0 246.4 L182.0 246.4 L183.0 246.5 L184.0 246.5 L185.0 246.6 L186.0 246.7 L187.0 246.7 L188.0 246.8 L189.0 246.8 L190.0 246.9 L191.0 247.0 L192.0 247.0 L193.0 247.1 L194.0 247.1 L195.0 247.2 L196.0 247.3 L197.0 247.3 L198.0 247.4 L199.0 247.5 L200.0 247.5 L201.0 247.6 L202.0 247.7 L203.0 247.7 L204.0 247.8 L205.0 247.9 L206.0 247.9 L207.0 248.0 L208.0 248.1 L209.0 248.2 L210.0 248.2 L211.0 248.3 L212.0 248.4 L213.0 248.4 L214.0 248.5 L215.0 248.6 L216.0 248.7 L217.0 248.7 L218.0 248.8 L219.0 248.9 L220.0 249.0 L221.0 249.0 L222.0 249.1 L223.0 249.2 L224.0 249.3 L225.0 249.3 L226.0 249.4 L227.0 249.5 L228.0 249.6 L229.0 249.7 L230.0 249.7 L231.0 249.8 L232.0 249.9 L233.0 250.0 L234.0 250.1 L235.0 250.1 L236.0 250.2 L237.0 250.3 L238.0 250.4 L239.0 250.5 L240.0 250.6 L241.0 250.6 L242.0 250.7 L243.0 250.8 L244.0 250.9 L245.0 251.0 L246.0 251.1 L247.0 251.2 L248.0 251.3 L249.0 251.4 L250.0 251.4 L251.0 251.5 L252.0 251.6 L253.0 251.7 L254.0 251.8 L255.0 251.9 L256.0 252.0 L257.0 252.1 L258.0 252.2 L259.0 252.3 L260.0 252.4 L261.0 252.5 L262.0 252.6 L263.0 252.7 L264.0 252.8 L265.0 252.9 L266.0 252.9 L267.0 253.0 L268.0 253.1 L269.0 253.2 L270.0 253.3 L271.0 253.4 L272.0 253.5 L273.0 253.7 L274.0 253.8 L275.0 253.9 L276.0 254.0 L277.0 254.1 L278.0 254.2 L279.0 254.3 L280.0 254.4 L281.0 254.5 L282.0 254.6 L283.0 254.7 L284.0 254.8 L285.0 254.9 L286.0 255.0 L287.0 255.1 L288.0 255.2 L289.0 255.3 L290.0 255.5 L291.0 255.6 L292.0 255.7 L293.0 255.8 L294.0 255.9 L295.0 256.0 L296.0 256.1 L297.0 256.2 L298.0 256.4 L299.0 256.5 L300.0 256.6 L301.0 256.7 L302.0 256.8 L303.0 256.9 L304.0 257.1 L305.0 257.2 L306.0 257.3 L307.0 257.4 L308.0 257.5 L309.0 257.6 L310.0 257.8 L311.0 257.9 L312.0 258.0 L313.0 258.1 L314.0 258.3 L315.0 258.4 L316.0 258.5 L317.0 258.6 L318.0 258.7 L319.0 258.9 L320.0 259.0 L321.0 259.1 L322.0 259.3 L323.0 259.4 L324.0 259.5 L325.0 259.6 L326.0 259.8 L327.0 259.9 L328.0 260.0 L329.0 260.2 L330.0 260.3 L331.0 260.4 L332.0 260.6 L333.0 260.7 L334.0 260.8 L335.0 261.0 L336.0 261.1 L337.0 261.2 L338.0 261.4 L339.0 261.5 L340.0 261.6 L341.0 261.8 L342.0 261.9 L343.0 262.0 L344.0 262.2 L345.0 262.3 L346.0 262.5 L347.0 262.6 L348.0 262.7 L349.0 262.9 L350.0 263.0 L351.0 263.2 L352.0 263.3 L353.0 263.4 L354.0 263.6 L355.0 263.7 L356.0 263.9 L357.0 264.0 L358.0 264.2 L359.0 264.3 L360.0 264.5 L361.0 264.6 L362.0 264.8 L363.0 264.9 L364.0 265.1 L365.0 265.2 L366.0 265.4 L367.0 265.5 L368.0 265.7 L369.0 265.8 L370.0 266.0 L371.0 266.1 L372.0 266.3 L373.0 266.4 L374.0 266.6 L375.0 266.7 L376.0 266.9 L377.0 267.1 L378.0 267.2 L379.0 267.4 L380.0 267.5 L381.0 267.7 L382.0 267.8 L383.0 268.0 L384.0 268.2 L385.0 268.3 L386.0 268.5 L387.0 268.7 L388.0 268.8 L389.0 269.0 L390.0 269.1 L391.0 269.3 L392.0 269.5 L393.0 269.6 L394.0 269.8 L395.0 270.0 L396.0 270.1 L397.0 270.3 L398.0 270.5 L399.0 270.6 L400.0 270.8 L401.0 271.0 L402.0 271.2 L403.0 271.3 L404.0 271.5 L405.0 271.7 L406.0 271.8 L407.0 272.0 L408.0 272.2 L409.0 272.4 L410.0 272.5 L411.0 272.7 L412.0 272.9 L413.0 273.1 L414.0 273.2 L415.0 273.4 L416.0 273.6 L417.0 273.8 L418.0 274.0 L419.0 274.1 L420.0 274.3 L421.0 274.5 L422.0 274.7 L423.0 274.9 L424.0 275.0 L425.0 275.2 L426.0 275.4 L427.0 275.6 L428.0 275.8 L429.0 276.0 L430.0 276.2 L431.0 276.3 L432.0 276.5 L433.0 276.7 L434.0 276.9 L435.0 277.1 L436.0 277.3 L437.0 277.5 L438.0 277.7 L439.0 277.9 L440.0 278.1 L441.0 278.2 L442.0 278.4 L443.0 278.6 L444.0 278.8 L445.0 279.0 L446.0 279.2 L447.0 279.4 L448.0 279.6 L449.0 279.8 L450.0 280.0 L451.0 280.2 L452.0 280.4 L453.0 280.6 L454.0 280.8 L455.0 281.0 L456.0 281.2 L457.0 281.4 L458.0 281.6 L459.0 281.8 L460.0 282.0 L461.0 282.2 L462.0 282.4 L463.0 282.6 L464.0 282.9 L465.0 283.1 L466.0 283.3 L467.0 283.5 L468.0 283.7 L469.0 283.9 L470.0 284.1 L471.0 284.3 L472.0 284.5 L473.0 284.7 L474.0 284.9 L475.0 285.2 L476.0 285.4 L477.0 285.6 L478.0 285.8 L479.0 286.0 L480.0 286.2 L481.0 286.5 L482.0 286.7 L483.0 286.9 L484.0 287.1 L485.0 287.3 L486.0 287.5 L487.0 287.8 L488.0 288.0 L489.0 288.2 L490.0 288.4 L491.0 288.7 L492.0 288.9 L493.0 289.1 L494.0 289.3 L495.0 289.6 L496.0 289.8 L497.0 290.0 L498.0 290.2 L499.0 290.5 L500.0 290.7 L501.0 290.9 L502.0 291.2 L503.0 291.4 L504.0 291.6 L505.0 291.9 L506.0 292.1 L507.0 292.3 L508.0 292.6 L509.0 292.8 L510.0 293.1 L511.0 293.3 L512.0 293.5 L513.0 293.8 L514.0 294.0 L515.0 294.3 L516.0 294.5 L517.0 294.8 L518.0 295.0 L519.0 295.3 L520.0 295.5 L521.0 295.8 L522.0 296.0 L523.0 296.3 L524.0 296.5 L525.0 296.8 L526.0 297.0 L527.0 297.3 L528.0 297.6 L529.0 297.8 L530.0 298.1 L531.0 298.3 L532.0 298.6 L533.0 298.9 L534.0 299.1 L535.0 299.4 L536.0 299.7 L537.0 299.9 L538.0 300.2 L539.0 300.5 L540.0 300.7 L541.0 301.0 L542.0 301.3 L543.0 301.6 L544.0 301.9 L545.0 302.1 L546.0 302.4 L547.0 302.7 L548.0 303.0 L549.0 303.3 L550.0 303.6 L551.0 303.8 L552.0 304.1 L553.0 304.4 L554.0 304.7 L555.0 305.0 L556.0 305.3 L557.0 305.6 L558.0 305.9 L559.0 306.2 L560.0 306.5 L561.0 306.8 L562.0 307.1 L563.0 307.4 L564.0 307.7 L565.0 308.0 L566.0 308.3 L567.0 308.7 L568.0 309.0 L569.0 309.3 L570.0 309.6 L571.0 309.9 L572.0 310.2 L573.0 310.6 L574.0 310.9 L575.0 311.2 L576.0 311.5 L577.0 311.9 L578.0 312.2 L579.0 312.5 L580.0 312.9 L581.0 313.2 L582.0 313.5 L583.0 313.9 L584.0 314.2 L585.0 314.6 L586.0 314.9 L587.0 315.2 L588.0 315.6 L589.0 315.9 L590.0 316.3 L591.0 316.7 L592.0 317.0 L593.0 317.4 L594.0 317.7 L595.0 318.1 L596.0 318.4 L597.0 318.8 L598.0 319.2 L599.0 319.5 L600.0 319.9 L601.0 320.3 L602.0 320.7 L603.0 321.0 L604.0 321.4 L605.0 321.8 L606.0 322.2 L607.0 322.6 L608.0 323.0 L609.0 323.3 L610.0 323.7 L611.0 324.1 L612.0 324.5 L613.0 324.9 L614.0 325.3 L615.0 325.7 L616.0 326.1 L617.0 326.5 L618.0 326.9 L619.0 327.3 L620.0 327.8 L621.0 328.2 L622.0 328.6 L623.0 329.0 L624.0 329.4 L625.0 329.8 L626.0 330.3 L627.0 330.7 L628.0 331.1 L629.0 331.6 L630.0 332.0 L631.0 332.4 L632.0 332.9 L633.0 333.3 L634.0 333.7 L635.0 334.2 L636.0 334.6 L637.0 335.1 L638.0 335.5 L639.0 336.0 L640.0 336.5 L641.0 336.9 L642.0 337.4 L643.0 337.8 L644.0 338.3 L645.0 338.8 L646.0 339.3 L647.0 339.7 L648.0 340.2 L649.0 340.7 L650.0 341.2 L651.0 341.7 L652.0 342.1 L653.0 342.6 L654.0 343.1 L655.0 343.6 L656.0 344.1 L657.0 344.6 L658.0 345.1 L659.0 345.6 L660.0 346.1 L661.0 346.6 L662.0 347.1 L663.0 347.7 L664.0 348.2 L665.0 348.7 L666.0 349.2 L667.0 349.8 L668.0 350.3 L669.0 350.8 L670.0 351.3 L671.0 351.9 L672.0 352.4 L673.0 353.0 L674.0 353.5 L675.0 354.1 L676.0 354.6 L677.0 355.2 L678.0 355.7 L679.0 356.3 L680.0 356.8 L681.0 357.4 L682.0 358.0 L683.0 358.5 L684.0 359.1 L685.0 359.7 L686.0 360.3 L687.0 360.9 L688.0 361.4 L689.0 362.0 L690.0 362.6 L691.0 363.2 L692.0 363.8 L693.0 364.4 L694.0 365.0 L695.0 365.6 L696.0 366.2 L697.0 366.8 L698.0 367.5 L699.0 368.1 L700.0 368.7 L701.0 369.3 L702.0 369.9 L703.0 370.6 L704.0 371.2 L705.0 371.8 L706.0 372.5 L707.0 373.1 L708.0 373.8 L709.0 374.4 L710.0 375.1 L711.0 375.7 L712.0 376.4 L713.0 377.0 L714.0 377.7 L715.0 378.4 L716.0 379.1 L717.0 379.7 L718.0 380.4 L719.0 381.1 L720.0 381.8 L721.0 382.5 L722.0 383.1 L723.0 383.8 L724.0 384.5 L725.0 385.2 L726.0 385.9 L727.0 386.7 L728.0 387.4 L729.0 388.1 L730.0 388.8 L731.0 389.5 L732.0 390.2 L733.0 391.0 L734.0 391.7 L735.0 392.4 L736.0 393.2 L737.0 393.9 L738.0 394.7 L739.0 395.4 L740.0 396.2 L741.0 396.9 L742.0 397.7 L743.0 398.4 L744.0 399.2 L745.0 400.0 L746.0 400.7 L747.0 401.5 L748.0 402.3 L749.0 403.1 L750.0 403.9 L751.0 404.7 L752.0 405.5 L753.0 406.3 L754.0 407.1 L755.0 407.9 L756.0 408.7 L757.0 409.5 L758.0 410.3 L759.0 411.1 L760.0 412.0 L761.0 412.8 L762.0 413.6 L763.0 414.4 L764.0 415.3 L765.0 416.1 L766.0 417.0 L767.0 417.8 L768.0 418.7 L769.0 419.5 L770.0 420.4 L771.0 421.3 L772.0 422.1 L773.0 423.0 L774.0 423.9 L775.0 424.8 L776.0 425.7 L777.0 426.5 L778.0 427.4 L779.0 428.3 L780.0 429.2 L781.0 430.1 L782.0 431.0 L783.0 432.0 L784.0 432.9 L785.0 433.8 L786.0 434.7 L787.0 435.7 L788.0 436.6 L789.0 437.5 L790.0 438.5 L791.0 439.4 L792.0 440.4 L793.0 441.3 L794.0 442.3 L795.0 443.2 L796.0 444.2 L797.0 445.2 L798.0 446.2 L799.0 447.1 L800.0 448.1 L801.0 449.1 L802.0 450.1 L803.0 451.1 L804.0 452.1 L805.0 453.1 L806.0 454.1 L807.0 455.2 L808.0 456.2 L809.0 457.2 L810.0 458.3 L811.0 459.3 L812.0 460.3 L813.0 461.4 L814.0 462.4 L815.0 463.5 L816.0 464.6 L817.0 465.6 L818.0 466.7 L819.0 467.8 L820.0 468.9 L821.0 470.0 L822.0 471.0 L823.0 472.1 L824.0 473.3 L825.0 474.4 L826.0 475.5 L827.0 476.6 L828.0 477.7 L829.0 478.9 L830.0 480.0 L831.0 481.1 L832.0 482.3 L833.0 483.4 L834.0 484.6 L835.0 485.8 L836.0 486.9 L837.0 488.1 L838.0 489.3 L839.0 490.5 L840.0 491.7 L841.0 492.9 L842.0 494.1 L843.0 495.3 L844.0 496.5 L845.0 497.7 L846.0 499.0 L847.0 500.2 L848.0 501.4 L849.0 502.7 L850.0 504.0 L851.0 505.2 L852.0 506.5 L853.0 507.8 L854.0 509.0 L855.0 510.3 L856.0 511.6 L857.0 512.9 L858.0 514.2 L859.0 515.5 L860.0 516.8 L861.0 518.2 L862.0 519.5 L863.0 520.8 L864.0 522.2 L865.0 523.5 L866.0 524.9 L867.0 526.2 L868.0 527.6 L869.0 529.0 L870.0 530.4 L871.0 531.8 L872.0 533.2 L873.0 534.6 L874.0 536.0 L875.0 537.4 L876.0 538.8 L877.0 540.2 L878.0 541.7 L879.0 543.1 L880.0 544.6 L881.0 546.0 L882.0 547.5 L883.0 549.0 L884.0 550.5 L885.0 551.9 L886.0 553.4 L887.0 554.9 L888.0 556.4 L889.0 558.0 L890.0 559.5 L891.0 561.0 L892.0 562.6 L893.0 564.1 L894.0 565.7 L895.0 567.2 L896.0 568.8 L897.0 570.4 L898.0 572.0 L899.0 573.5 L900.0 575.1 L901.0 576.7 L902.0 578.4 L903.0 580.0 L904.0 581.6 L905.0 583.3 L906.0 584.9 L907.0 586.6 L908.0 588.2 L909.0 589.9 L910.0 591.6 L911.0 593.3 L912.0 594.9 L913.0 596.6 L914.0 598.4 L915.0 600.1 L916.0 601.8 L917.0 603.5 L918.0 605.3 L919.0 607.0 L920.0 608.8 L921.0 610.6 L922.0 612.3 L923.0 614.1 L924.0 615.9 L925.0 617.7 L926.0 619.5 L927.0 621.3 L928.0 623.2 L929.0 625.0 L930.0 626.8 L931.0 628.7 L932.0 630.6 L933.0 632.4 L934.0 634.3 L935.0 636.2 L936.0 638.1 L937.0 640.0 L938.0 641.9 L939.0 643.8 L940.0 645.8 L941.0 647.7 L942.0 649.7 L943.0 651.6 L944.0 653.6 L945.0 655.6 L946.0 657.5 L947.0 659.5 L948.0 661.5 L949.0 663.6 L950.0 665.6 L951.0 667.6 L952.0 669.7 L953.0 671.7 L954.0 673.8 L955.0 675.8 L956.0 677.9 L957.0 680.0 L958.0 682.1 L959.0 684.2 L960.0 686.3 L961.0 688.4 L962.0 690.6 L963.0 692.7 L964.0 694.9 L965.0 697.0 L966.0 699.2 L967.0 701.4 L968.0 703.6 L969.0 705.8 L970.0 708.0 L971.0 710.2 L972.0 712.5 L973.0 714.7 L974.0 717.0 L975.0 719.2 L976.0 721.5 L977.0 723.8 L978.0 726.1 L979.0 728.4 L980.0 730.7 L981.0 733.0 L982.0 735.4 L983.0 737.7 L984.0 740.0 L985.0 742.4 L986.0 744.8 L987.0 747.2 L988.0 749.6 L989.0 752.0 L990.0 754.4 L991.0 756.8 L992.0 759.3 L993.0 761.7 L994.0 764.2 L995.0 766.6 L996.0 769.1 L997.0 771.6 L998.0 774.1 L999.0 776.6 L1000.0 779.1 L1001.0 781.7 L1002.0 784.2 L1003.0 786.8 L1004.0 789.3 L1005.0 791.9 L1006.0 794.5 L1007.0 797.1 L1008.0 799.7 L1009.0 802.3 L1010.0 805.0 L1011.0 807.6 L1012.0 810.3 L1013.0 812.9 L1014.0 815.6 L1015.0 818.3 L1016.0 821.0 L1017.0 823.7 L1018.0 826.4 L1019.0 829.2 L1020.0 831.9 L1021.0 834.7 L1022.0 837.4 L1023.0 840.2 L1024.0 843.0 L1025.0 845.8 L1026.0 848.6 L1027.0 851.4 L1028.0 854.3 L1029.0 857.1 L1030.0 860.0 L1031.0 862.9 L1032.0 865.8 L1033.0 868.6 L1034.0 871.6 L1035.0 874.5 L1036.0 877.4 L1037.0 880.3 L1038.0 883.3 L1039.0 886.3 L1040.0 889.3 L1041.0 892.2 L1042.0 895.2 L1043.0 898.3 L1044.0 901.3 L1045.0 904.3 L1046.0 907.4 L1047.0 910.4 L1048.0 913.5 L1049.0 916.6 L1050.0 919.7 L1051.0 922.8 L1052.0 926.0 L1053.0 929.1 L1054.0 932.2 L1055.0 935.4 L1056.0 938.6 L1057.0 941.8 L1058.0 945.0 L1059.0 948.2 L1060.0 951.4 L1061.0 954.6 L1062.0 957.9 L1063.0 961.2 L1064.0 964.4 L1065.0 967.7 L1066.0 971.0 L1067.0 974.3 L1068.0 977.7 L1069.0 981.0 L1070.0 984.4 L1071.0 987.7 L1072.0 991.1 L1073.0 994.5 L1074.0 997.9 L1075.0 1001.3" fill="none" stroke="#2b2b2b" stroke-width="6.9" stroke-linejoin="round" stroke-dasharray="6.9 60.49" stroke-dashoffset="27.44"/>
</g>
<g clip-path="url(#cTR)">
<path d="M1100.0 179.1 L1102.0 179.4 L1104.0 179.6 L1106.0 179.9 L1108.0 180.2 L1110.0 180.5 L1112.0 180.8 L1114.0 181.1 L1116.0 181.3 L1118.0 181.6 L1120.0 181.9 L1122.0 182.2 L1124.0 182.4 L1126.0 182.7 L1128.0 183.0 L1130.0 183.3 L1132.0 183.6 L1134.0 183.8 L1136.0 184.1 L1138.0 184.4 L1140.0 184.7 L1142.0 184.9 L1144.0 185.2 L1146.0 185.5 L1148.0 185.8 L1150.0 186.0 L1152.0 186.3 L1154.0 186.6 L1156.0 186.9 L1158.0 187.1 L1160.0 187.4 L1162.0 187.7 L1164.0 188.0 L1166.0 188.3 L1168.0 188.5 L1170.0 188.8 L1172.0 189.1 L1174.0 189.4 L1176.0 189.7 L1178.0 189.9 L1180.0 190.2 L1182.0 190.5 L1184.0 190.8 L1186.0 191.1 L1188.0 191.4 L1190.0 191.7 L1192.0 192.0 L1194.0 192.2 L1196.0 192.5 L1198.0 192.8 L1200.0 193.1 L1202.0 193.4 L1204.0 193.7 L1206.0 194.0 L1208.0 194.3 L1210.0 194.6 L1212.0 194.9 L1214.0 195.2 L1216.0 195.5 L1218.0 195.8 L1220.0 196.1 L1222.0 196.4 L1224.0 196.8 L1226.0 197.1 L1228.0 197.4 L1230.0 197.7 L1232.0 198.0 L1234.0 198.3 L1236.0 198.7 L1238.0 199.0 L1240.0 199.3 L1242.0 199.6 L1244.0 200.0 L1246.0 200.3 L1248.0 200.6 L1250.0 201.0 L1252.0 201.3 L1254.0 201.7 L1256.0 202.0 L1258.0 202.4 L1260.0 202.7 L1262.0 203.1 L1264.0 203.4 L1266.0 203.8 L1268.0 204.1 L1270.0 204.5 L1272.0 204.9 L1274.0 205.2 L1276.0 205.6 L1278.0 206.0 L1280.0 206.4 L1282.0 206.7 L1284.0 207.1 L1286.0 207.5 L1288.0 207.9 L1290.0 208.3 L1292.0 208.7 L1294.0 209.1 L1296.0 209.5 L1298.0 209.9 L1300.0 210.3 L1302.0 210.7 L1304.0 211.1 L1306.0 211.5 L1308.0 212.0 L1310.0 212.4 L1312.0 212.8 L1314.0 213.3 L1316.0 213.7 L1318.0 214.1 L1320.0 214.6 L1322.0 215.0 L1324.0 215.5 L1326.0 215.9 L1328.0 216.4 L1330.0 216.9 L1332.0 217.3 L1334.0 217.8 L1336.0 218.3 L1338.0 218.8 L1340.0 219.2 L1342.0 219.7 L1344.0 220.2 L1346.0 220.7 L1348.0 221.2 L1350.0 221.7 L1352.0 222.2 L1354.0 222.8 L1356.0 223.3 L1358.0 223.8 L1360.0 224.3 L1362.0 224.9 L1364.0 225.4 L1366.0 225.9 L1368.0 226.5 L1370.0 227.1 L1372.0 227.6 L1374.0 228.2 L1376.0 228.7 L1378.0 229.3 L1380.0 229.9 L1382.0 230.5 L1384.0 231.1 L1386.0 231.7 L1388.0 232.3 L1390.0 232.9 L1392.0 233.5 L1394.0 234.1 L1396.0 234.7 L1398.0 235.3 L1400.0 236.0 L1402.0 236.6 L1404.0 237.2 L1406.0 237.9 L1408.0 238.5 L1410.0 239.2 L1412.0 239.9 L1414.0 240.5 L1416.0 241.2 L1418.0 241.9 L1420.0 242.6 L1422.0 243.3 L1424.0 244.0 L1426.0 244.7 L1428.0 245.4 L1430.0 246.1 L1432.0 246.8 L1434.0 247.6 L1436.0 248.3 L1438.0 249.1 L1440.0 249.8 L1442.0 250.6 L1444.0 251.3 L1446.0 252.1 L1448.0 252.9 L1450.0 253.6 L1452.0 254.4 L1454.0 255.2 L1456.0 256.0 L1458.0 256.8 L1460.0 257.7 L1462.0 258.5 L1464.0 259.3 L1466.0 260.1 L1468.0 261.0 L1470.0 261.8 L1472.0 262.7 L1474.0 263.6 L1476.0 264.4 L1478.0 265.3 L1480.0 266.2 L1482.0 267.1 L1484.0 268.0 L1486.0 268.9 L1488.0 269.8 L1490.0 270.7 L1492.0 271.7 L1494.0 272.6 L1496.0 273.6 L1498.0 274.5 L1500.0 275.5 L1502.0 276.4 L1504.0 277.4 L1506.0 278.4 L1508.0 279.4 L1510.0 280.4 L1512.0 281.4 L1514.0 282.4 L1516.0 283.4 L1518.0 284.5 L1520.0 285.5 L1522.0 286.5 L1524.0 287.6 L1526.0 288.6 L1528.0 289.7 L1530.0 290.8 L1532.0 291.9 L1534.0 292.9 L1536.0 294.0 L1538.0 295.1 L1540.0 296.3 L1542.0 297.4 L1544.0 298.5 L1546.0 299.6 L1548.0 300.8 L1550.0 301.9 L1552.0 303.1 L1554.0 304.2 L1556.0 305.4 L1558.0 306.6 L1560.0 307.8 L1562.0 309.0 L1564.0 310.2 L1566.0 311.4 L1568.0 312.6 L1570.0 313.8 L1572.0 315.0 L1574.0 316.3 L1576.0 317.5 L1578.0 318.8 L1580.0 320.0 L1582.0 321.3 L1584.0 322.6 L1586.0 323.8 L1588.0 325.1 L1590.0 326.4 L1592.0 327.7 L1594.0 329.0 L1596.0 330.3 L1598.0 331.7 L1600.0 333.0 L1602.0 334.3 L1604.0 335.7 L1606.0 337.0 L1608.0 338.4 L1610.0 339.8 L1612.0 341.1 L1614.0 342.5 L1616.0 343.9 L1618.0 345.3 L1620.0 346.7 L1622.0 348.1 L1624.0 349.5 L1626.0 350.9 L1628.0 352.4 L1630.0 353.8 L1632.0 355.3 L1634.0 356.7 L1636.0 358.2 L1638.0 359.6 L1640.0 361.1 L1642.0 362.6 L1644.0 364.1 L1646.0 365.6 L1648.0 367.2 L1650.0 368.7 L1652.0 370.2 L1654.0 371.8 L1656.0 373.3 L1658.0 374.9 L1660.0 376.5 L1662.0 378.1 L1664.0 379.7 L1666.0 381.4 L1668.0 383.0 L1670.0 384.6 L1672.0 386.3 L1674.0 388.0 L1676.0 389.7 L1678.0 391.4 L1680.0 393.1 L1682.0 394.9 L1684.0 396.6 L1686.0 398.4 L1688.0 400.2 L1690.0 402.0 L1692.0 403.8 L1694.0 405.6 L1696.0 407.5 L1698.0 409.4 L1700.0 411.2 L1702.0 413.2 L1704.0 415.1 L1706.0 417.0 L1708.0 419.0 L1710.0 421.0 L1712.0 423.0 L1714.0 425.0 L1716.0 427.0 L1718.0 429.1 L1720.0 431.2 L1722.0 433.3 L1724.0 435.4 L1726.0 437.5 L1728.0 439.7 L1730.0 441.9 L1732.0 444.1 L1734.0 446.3 L1736.0 448.6 L1738.0 450.9 L1740.0 453.2 L1742.0 455.5 L1744.0 457.8 L1746.0 460.2 L1748.0 462.6 L1750.0 465.0 L1752.0 467.5 L1754.0 470.0 L1756.0 472.4 L1758.0 475.0 L1760.0 477.5 L1762.0 480.1 L1764.0 482.7 L1766.0 485.3 L1768.0 488.0 L1770.0 490.7 L1772.0 493.4 L1774.0 496.1 L1776.0 498.8 L1778.0 501.6 L1780.0 504.4 L1782.0 507.3 L1784.0 510.1 L1786.0 513.0 L1788.0 516.0 L1790.0 518.9 L1792.0 521.9 L1794.0 524.9 L1796.0 527.9 L1798.0 531.0 L1800.0 534.1 L1802.0 537.2 L1804.0 540.3 L1806.0 543.5 L1808.0 546.7 L1810.0 550.0 L1812.0 553.2 L1814.0 556.5 L1816.0 559.8 L1818.0 563.2 L1820.0 566.6 L1822.0 570.0 L1824.0 573.4 L1826.0 576.9 L1828.0 580.4 L1830.0 583.9 L1832.0 587.5 L1834.0 591.1 L1836.0 594.7 L1838.0 598.3 L1840.0 602.0 L1842.0 605.8 L1844.0 609.5 L1846.0 613.3 L1848.0 617.1 L1850.0 620.9 L1852.0 624.8 L1854.0 628.7 L1856.0 632.7 L1858.0 636.6 L1860.0 640.6 L1862.0 644.7 L1864.0 648.8 L1866.0 652.9 L1868.0 657.0 L1870.0 661.2 L1872.0 665.4 L1874.0 669.6 L1876.0 673.9 L1878.0 678.2 L1880.0 682.5 L1882.0 686.9 L1884.0 691.3 L1886.0 695.8 L1888.0 700.3 L1890.0 704.8 L1892.0 709.4 L1894.0 714.0 L1896.0 718.6 L1898.0 723.3 L1900.0 728.0 L1902.0 732.7 L1904.0 737.5 L1906.0 742.3 L1908.0 747.2 L1910.0 752.1 L1912.0 757.1 L1914.0 762.0 L1916.0 767.1 L1918.0 772.1 L1920.0 777.2 L1922.0 782.4 L1924.0 787.6 L1926.0 792.8 L1928.0 798.1 L1930.0 803.4 L1932.0 808.8 L1934.0 814.2 L1936.0 819.6 L1938.0 825.1 L1940.0 830.7 L1942.0 836.3 L1944.0 841.9 L1946.0 847.6 L1948.0 853.3 L1950.0 859.1 L1952.0 864.9 L1954.0 870.8 L1956.0 876.7 L1958.0 882.7 L1960.0 888.7 L1962.0 894.8 L1964.0 900.9 L1966.0 907.1 L1968.0 913.3 L1970.0 919.6 L1972.0 926.0 L1974.0 932.3 L1976.0 938.8 L1978.0 945.3 L1980.0 951.9 L1982.0 958.5 L1984.0 965.1 L1986.0 971.9 L1988.0 978.7 L1990.0 985.5 L1992.0 992.4 L1994.0 999.4 L1996.0 1006.4" fill="none" stroke="#808080" stroke-width="2.5" stroke-linejoin="round" stroke-dasharray="12.4 2.4" />
<path d="M1100.0 144.7 L1102.0 145.6 L1104.0 146.5 L1106.0 147.4 L1108.0 148.3 L1110.0 149.2 L1112.0 150.2 L1114.0 151.1 L1116.0 152.0 L1118.0 153.0 L1120.0 154.0 L1122.0 155.0 L1124.0 155.9 L1126.0 156.9 L1128.0 157.9 L1130.0 158.9 L1132.0 160.0 L1134.0 161.0 L1136.0 162.0 L1138.0 163.1 L1140.0 164.1 L1142.0 165.2 L1144.0 166.3 L1146.0 167.3 L1148.0 168.4 L1150.0 169.5 L1152.0 170.6 L1154.0 171.7 L1156.0 172.9 L1158.0 174.0 L1160.0 175.1 L1162.0 176.3 L1164.0 177.4 L1166.0 178.6 L1168.0 179.7 L1170.0 180.9 L1172.0 182.1 L1174.0 183.3 L1176.0 184.5 L1178.0 185.7 L1180.0 186.9 L1182.0 188.1 L1184.0 189.3 L1186.0 190.6 L1188.0 191.8 L1190.0 193.1 L1192.0 194.3 L1194.0 195.6 L1196.0 196.9 L1198.0 198.2 L1200.0 199.4 L1202.0 200.7 L1204.0 202.0 L1206.0 203.3 L1208.0 204.7 L1210.0 206.0 L1212.0 207.3 L1214.0 208.7 L1216.0 210.0 L1218.0 211.4 L1220.0 212.7 L1222.0 214.1 L1224.0 215.4 L1226.0 216.8 L1228.0 218.2 L1230.0 219.6 L1232.0 221.0 L1234.0 222.4 L1236.0 223.8 L1238.0 225.2 L1240.0 226.7 L1242.0 228.1 L1244.0 229.5 L1246.0 231.0 L1248.0 232.4 L1250.0 233.9 L1252.0 235.4 L1254.0 236.8 L1256.0 238.3 L1258.0 239.8 L1260.0 241.3 L1262.0 242.8 L1264.0 244.3 L1266.0 245.8 L1268.0 247.3 L1270.0 248.8 L1272.0 250.4 L1274.0 251.9 L1276.0 253.4 L1278.0 255.0 L1280.0 256.5 L1282.0 258.1 L1284.0 259.7 L1286.0 261.2 L1288.0 262.8 L1290.0 264.4 L1292.0 266.0 L1294.0 267.6 L1296.0 269.2 L1298.0 270.8 L1300.0 272.4 L1302.0 274.0 L1304.0 275.6 L1306.0 277.2 L1308.0 278.9 L1310.0 280.5 L1312.0 282.2 L1314.0 283.8 L1316.0 285.5 L1318.0 287.1 L1320.0 288.8 L1322.0 290.4 L1324.0 292.1 L1326.0 293.8 L1328.0 295.5 L1330.0 297.2 L1332.0 298.9 L1334.0 300.6 L1336.0 302.3 L1338.0 304.0 L1340.0 305.7 L1342.0 307.4 L1344.0 309.1 L1346.0 310.9 L1348.0 312.6 L1350.0 314.3 L1352.0 316.1 L1354.0 317.8 L1356.0 319.6 L1358.0 321.3 L1360.0 323.1 L1362.0 324.9 L1364.0 326.7 L1366.0 328.5 L1368.0 330.3 L1370.0 332.1 L1372.0 333.9 L1374.0 335.7 L1376.0 337.5 L1378.0 339.3 L1380.0 341.2 L1382.0 343.0 L1384.0 344.9 L1386.0 346.7 L1388.0 348.6 L1390.0 350.5 L1392.0 352.4 L1394.0 354.3 L1396.0 356.2 L1398.0 358.1 L1400.0 360.0 L1402.0 361.9 L1404.0 363.9 L1406.0 365.8 L1408.0 367.8 L1410.0 369.7 L1412.0 371.7 L1414.0 373.7 L1416.0 375.7 L1418.0 377.7 L1420.0 379.7 L1422.0 381.7 L1424.0 383.8 L1426.0 385.8 L1428.0 387.9 L1430.0 390.0 L1432.0 392.0 L1434.0 394.1 L1436.0 396.2 L1438.0 398.3 L1440.0 400.5 L1442.0 402.6 L1444.0 404.8 L1446.0 406.9 L1448.0 409.1 L1450.0 411.3 L1452.0 413.5 L1454.0 415.7 L1456.0 417.9 L1458.0 420.1 L1460.0 422.4 L1462.0 424.7 L1464.0 426.9 L1466.0 429.2 L1468.0 431.5 L1470.0 433.8 L1472.0 436.2 L1474.0 438.5 L1476.0 440.9 L1478.0 443.2 L1480.0 445.6 L1482.0 448.0 L1484.0 450.4 L1486.0 452.9 L1488.0 455.3 L1490.0 457.8 L1492.0 460.2 L1494.0 462.7 L1496.0 465.2 L1498.0 467.8 L1500.0 470.3 L1502.0 472.8 L1504.0 475.4 L1506.0 478.0 L1508.0 480.6 L1510.0 483.2 L1512.0 485.8 L1514.0 488.5 L1516.0 491.1 L1518.0 493.8 L1520.0 496.5 L1522.0 499.2 L1524.0 501.9 L1526.0 504.7 L1528.0 507.4 L1530.0 510.2 L1532.0 513.0 L1534.0 515.8 L1536.0 518.6 L1538.0 521.5 L1540.0 524.3 L1542.0 527.2 L1544.0 530.1 L1546.0 533.0 L1548.0 535.9 L1550.0 538.9 L1552.0 541.8 L1554.0 544.8 L1556.0 547.8 L1558.0 550.8 L1560.0 553.9 L1562.0 556.9 L1564.0 560.0 L1566.0 563.1 L1568.0 566.2 L1570.0 569.3 L1572.0 572.4 L1574.0 575.6 L1576.0 578.8 L1578.0 582.0 L1580.0 585.2 L1582.0 588.4 L1584.0 591.7 L1586.0 595.0 L1588.0 598.2 L1590.0 601.6 L1592.0 604.9 L1594.0 608.2 L1596.0 611.6 L1598.0 615.0 L1600.0 618.4 L1602.0 621.8 L1604.0 625.3 L1606.0 628.7 L1608.0 632.2 L1610.0 635.7 L1612.0 639.3 L1614.0 642.8 L1616.0 646.4 L1618.0 650.0 L1620.0 653.6 L1622.0 657.2 L1624.0 660.9 L1626.0 664.5 L1628.0 668.2 L1630.0 671.9 L1632.0 675.7 L1634.0 679.4 L1636.0 683.2 L1638.0 687.0 L1640.0 690.8 L1642.0 694.6 L1644.0 698.5 L1646.0 702.4 L1648.0 706.3 L1650.0 710.2 L1652.0 714.2 L1654.0 718.1 L1656.0 722.1 L1658.0 726.1 L1660.0 730.2 L1662.0 734.2 L1664.0 738.3 L1666.0 742.4 L1668.0 746.5 L1670.0 750.7 L1672.0 754.9 L1674.0 759.1 L1676.0 763.3 L1678.0 767.5 L1680.0 771.8 L1682.0 776.1 L1684.0 780.4 L1686.0 784.7 L1688.0 789.1 L1690.0 793.4 L1692.0 797.8 L1694.0 802.3 L1696.0 806.7 L1698.0 811.2 L1700.0 815.7 L1702.0 820.2 L1704.0 824.7 L1706.0 829.3 L1708.0 833.9 L1710.0 838.5 L1712.0 843.2 L1714.0 847.8 L1716.0 852.5 L1718.0 857.2 L1720.0 862.0 L1722.0 866.7 L1724.0 871.5 L1726.0 876.3 L1728.0 881.2 L1730.0 886.1 L1732.0 890.9 L1734.0 895.9 L1736.0 900.8 L1738.0 905.8 L1740.0 910.8 L1742.0 915.8 L1744.0 920.8 L1746.0 925.9 L1748.0 931.0 L1750.0 936.1 L1752.0 941.3 L1754.0 946.4 L1756.0 951.6 L1758.0 956.9 L1760.0 962.1 L1762.0 967.4 L1764.0 972.7 L1766.0 978.0 L1768.0 983.4 L1770.0 988.8 L1772.0 994.2 L1774.0 999.6 L1776.0 1005.1 L1778.0 1010.6 L1780.0 1016.1" fill="none" stroke="#2b2b2b" stroke-width="2.7" stroke-linejoin="round" />
</g>
<g clip-path="url(#cBL)">
<path d="M184.5 1393.5 L359.6 1368.0 L538.5 1331.4 L621.0 1331.4 L708.7 1333.3 L820.0 1367.8 L884.7 1389.8 L910.6 1405.3 L936.4 1431.2 L967.5 1457.0 L982.8 1470.8 L997.4 1483.3 L1014.0 1497.9 L1045.2 1523.9 L1061.6 1537.4 L1061.6 1970.0 L886.3 1970.0 L886.3 1558.0 L874.3 1534.7 L820.0 1490.7 L755.3 1436.3 L711.3 1398.8 L651.8 1391.0 L600.0 1383.3 L533.5 1374.8 L359.6 1398.4 L184.5 1460.6 Z" fill="url(#hatch)" stroke="none" />
<path d="M229.2 1223.3 L314.9 1235.7 L401.9 1256.8 L493.8 1287.9 L578.3 1326.4 L621.0 1361.2 L667.3 1398.8 L755.3 1508.8 L832.2 1665.4 L863.8 1735.0 L884.9 1798.2 L906.0 1865.7 L935.5 1961.6 L936.5 1965.0" fill="none" stroke="#808080" stroke-width="2.4" stroke-linejoin="round" stroke-dasharray="12.4 2.5" />
<path d="M228.0 1191.7 L316.2 1220.8 L404.4 1233.2 L491.3 1251.9 L536.0 1264.3 L578.3 1279.2 L621.0 1296.6 L667.3 1314.7 L752.7 1376.8 L840.7 1477.7 L884.7 1545.0 L887.1 1549.9 L907.9 1595.7 L928.7 1647.7 L949.5 1699.8 L970.3 1751.8 L993.2 1803.8 L1009.9 1849.8 L1038.8 1918.4 L1057.8 1961.6 L1059.0 1965.0" fill="none" stroke="#808080" stroke-width="2.6" stroke-linejoin="round" />
<path d="M141.0 1232.2 L142.5 1232.0 L144.0 1231.8 L145.5 1231.7 L147.0 1231.5 L148.5 1231.4 L150.0 1231.2 L151.5 1231.1 L153.0 1231.0 L154.5 1230.8 L156.0 1230.7 L157.5 1230.6 L159.0 1230.5 L160.5 1230.4 L162.0 1230.3 L163.5 1230.2 L165.0 1230.2 L166.5 1230.1 L168.0 1230.0 L169.5 1230.0 L171.0 1229.9 L172.5 1229.9 L174.0 1229.8 L175.5 1229.8 L177.0 1229.8 L178.5 1229.7 L180.0 1229.7 L181.5 1229.7 L183.0 1229.7 L184.5 1229.7 L186.0 1229.7 L187.5 1229.7 L189.0 1229.7 L190.5 1229.7 L192.0 1229.8 L193.5 1229.8 L195.0 1229.8 L196.5 1229.9 L198.0 1229.9 L199.5 1230.0 L201.0 1230.0 L202.5 1230.1 L204.0 1230.1 L205.5 1230.2 L207.0 1230.3 L208.5 1230.3 L210.0 1230.4 L211.5 1230.5 L213.0 1230.6 L214.5 1230.7 L216.0 1230.8 L217.5 1230.9 L219.0 1231.0 L220.5 1231.1 L222.0 1231.2 L223.5 1231.3 L225.0 1231.4 L226.5 1231.5 L228.0 1231.7 L229.5 1231.8 L231.0 1231.9 L232.5 1232.1 L234.0 1232.2 L235.5 1232.3 L237.0 1232.5 L238.5 1232.6 L240.0 1232.8 L241.5 1232.9 L243.0 1233.1 L244.5 1233.3 L246.0 1233.4 L247.5 1233.6 L249.0 1233.7 L250.5 1233.9 L252.0 1234.1 L253.5 1234.3 L255.0 1234.4 L256.5 1234.6 L258.0 1234.8 L259.5 1235.0 L261.0 1235.2 L262.5 1235.4 L264.0 1235.5 L265.5 1235.7 L267.0 1235.9 L268.5 1236.1 L270.0 1236.3 L271.5 1236.5 L273.0 1236.7 L274.5 1236.9 L276.0 1237.1 L277.5 1237.3 L279.0 1237.5 L280.5 1237.7 L282.0 1237.9 L283.5 1238.1 L285.0 1238.4 L286.5 1238.6 L288.0 1238.8 L289.5 1239.0 L291.0 1239.2 L292.5 1239.4 L294.0 1239.6 L295.5 1239.8 L297.0 1240.1 L298.5 1240.3 L300.0 1240.5 L301.5 1240.7 L303.0 1240.9 L304.5 1241.1 L306.0 1241.4 L307.5 1241.6 L309.0 1241.8 L310.5 1242.0 L312.0 1242.2 L313.5 1242.4 L315.0 1242.7 L316.5 1242.9 L318.0 1243.1 L319.5 1243.3 L321.0 1243.5 L322.5 1243.7 L324.0 1244.0 L325.5 1244.2 L327.0 1244.4 L328.5 1244.6 L330.0 1244.8 L331.5 1245.0 L333.0 1245.2 L334.5 1245.5 L336.0 1245.7 L337.5 1245.9 L339.0 1246.1 L340.5 1246.3 L342.0 1246.5 L343.5 1246.8 L345.0 1247.0 L346.5 1247.2 L348.0 1247.4 L349.5 1247.6 L351.0 1247.8 L352.5 1248.1 L354.0 1248.3 L355.5 1248.5 L357.0 1248.7 L358.5 1248.9 L360.0 1249.2 L361.5 1249.4 L363.0 1249.6 L364.5 1249.8 L366.0 1250.1 L367.5 1250.3 L369.0 1250.5 L370.5 1250.8 L372.0 1251.0 L373.5 1251.2 L375.0 1251.4 L376.5 1251.7 L378.0 1251.9 L379.5 1252.1 L381.0 1252.4 L382.5 1252.6 L384.0 1252.9 L385.5 1253.1 L387.0 1253.3 L388.5 1253.6 L390.0 1253.8 L391.5 1254.1 L393.0 1254.3 L394.5 1254.6 L396.0 1254.8 L397.5 1255.1 L399.0 1255.3 L400.5 1255.6 L402.0 1255.9 L403.5 1256.1 L405.0 1256.4 L406.5 1256.6 L408.0 1256.9 L409.5 1257.2 L411.0 1257.4 L412.5 1257.7 L414.0 1258.0 L415.5 1258.3 L417.0 1258.5 L418.5 1258.8 L420.0 1259.1 L421.5 1259.4 L423.0 1259.7 L424.5 1260.0 L426.0 1260.3 L427.5 1260.6 L429.0 1260.9 L430.5 1261.1 L432.0 1261.5 L433.5 1261.8 L435.0 1262.1 L436.5 1262.4 L438.0 1262.7 L439.5 1263.0 L441.0 1263.3 L442.5 1263.6 L444.0 1264.0 L445.5 1264.3 L447.0 1264.6 L448.5 1264.9 L450.0 1265.3 L451.5 1265.6 L453.0 1266.0 L454.5 1266.3 L456.0 1266.7 L457.5 1267.0 L459.0 1267.4 L460.5 1267.7 L462.0 1268.1 L463.5 1268.4 L465.0 1268.8 L466.5 1269.2 L468.0 1269.5 L469.5 1269.9 L471.0 1270.3 L472.5 1270.7 L474.0 1271.1 L475.5 1271.5 L477.0 1271.9 L478.5 1272.3 L480.0 1272.7 L481.5 1273.1 L483.0 1273.5 L484.5 1273.9 L486.0 1274.3 L487.5 1274.7 L489.0 1275.1 L490.5 1275.6 L492.0 1276.0 L493.5 1276.4 L495.0 1276.9 L496.5 1277.3 L498.0 1277.8 L499.5 1278.2 L501.0 1278.7 L502.5 1279.1 L504.0 1279.6 L505.5 1280.1 L507.0 1280.6 L508.5 1281.0 L510.0 1281.5 L511.5 1282.0 L513.0 1282.5 L514.5 1283.0 L516.0 1283.5 L517.5 1284.0 L519.0 1284.5 L520.5 1285.0 L522.0 1285.6 L523.5 1286.1 L525.0 1286.6 L526.5 1287.2 L528.0 1287.7 L529.5 1288.2 L531.0 1288.8 L532.5 1289.4 L534.0 1289.9 L535.5 1290.5 L537.0 1291.1 L538.5 1291.6 L540.0 1292.2 L541.5 1292.8 L543.0 1293.4 L544.5 1294.0 L546.0 1294.6 L547.5 1295.2 L549.0 1295.9 L550.5 1296.5 L552.0 1297.1 L553.5 1297.8 L555.0 1298.4 L556.5 1299.1 L558.0 1299.7 L559.5 1300.4 L561.0 1301.1 L562.5 1301.7 L564.0 1302.4 L565.5 1303.1 L567.0 1303.8 L568.5 1304.5 L570.0 1305.2 L571.5 1305.9 L573.0 1306.7 L574.5 1307.4 L576.0 1308.1 L577.5 1308.9 L579.0 1309.6 L580.5 1310.4 L582.0 1311.2 L583.5 1311.9 L585.0 1312.7 L586.5 1313.5 L588.0 1314.3 L589.5 1315.1 L591.0 1315.9 L592.5 1316.7 L594.0 1317.5 L595.5 1318.3 L597.0 1319.1 L598.5 1319.9 L600.0 1320.7 L601.5 1321.6 L603.0 1322.4 L604.5 1323.2 L606.0 1324.1 L607.5 1324.9 L609.0 1325.7 L610.5 1326.6 L612.0 1327.4 L613.5 1328.2 L615.0 1329.1 L616.5 1329.9 L618.0 1330.8 L619.5 1331.6 L621.0 1332.4 L622.5 1333.3 L624.0 1334.1 L625.5 1335.0 L627.0 1335.8 L628.5 1336.7 L630.0 1337.6 L631.5 1338.4 L633.0 1339.3 L634.5 1340.2 L636.0 1341.1 L637.5 1342.0 L639.0 1343.0 L640.5 1343.9 L642.0 1344.9 L643.5 1345.8 L645.0 1346.8 L646.5 1347.8 L648.0 1348.8 L649.5 1349.9 L651.0 1350.9 L652.5 1352.0 L654.0 1353.1 L655.5 1354.2 L657.0 1355.3 L658.5 1356.5 L660.0 1357.7 L661.5 1358.9 L663.0 1360.1 L664.5 1361.3 L666.0 1362.5 L667.5 1363.7 L669.0 1364.9 L670.5 1366.1 L672.0 1367.2 L673.5 1368.4 L675.0 1369.5 L676.5 1370.5 L678.0 1371.6 L679.5 1372.6 L681.0 1373.5 L682.5 1374.5 L684.0 1375.4 L685.5 1376.3 L687.0 1377.2 L688.5 1378.1 L690.0 1378.9 L691.5 1379.7 L693.0 1380.5 L694.5 1381.4 L696.0 1382.2 L697.5 1382.9 L699.0 1383.7 L700.5 1384.5 L702.0 1385.3 L703.5 1386.1 L705.0 1386.9 L706.5 1387.7 L708.0 1388.5 L709.5 1389.3 L711.0 1390.1 L712.5 1391.0 L714.0 1391.8 L715.5 1392.7 L717.0 1393.6 L718.5 1394.5 L720.0 1395.5 L721.5 1396.5 L723.0 1397.5 L724.5 1398.5 L726.0 1399.5 L727.5 1400.6 L729.0 1401.8 L730.5 1402.9 L732.0 1404.2 L733.5 1405.4 L735.0 1406.7 L736.5 1408.0 L738.0 1409.4 L739.5 1410.8 L741.0 1412.3 L742.5 1413.8 L744.0 1415.3 L745.5 1416.8 L747.0 1418.4 L748.5 1420.0 L750.0 1421.7 L751.5 1423.3 L753.0 1425.0 L754.5 1426.8 L756.0 1428.5 L757.5 1430.3 L759.0 1432.1 L760.5 1433.9 L762.0 1435.7 L763.5 1437.6 L765.0 1439.4 L766.5 1441.3 L768.0 1443.2 L769.5 1445.1 L771.0 1447.1 L772.5 1449.0 L774.0 1450.9 L775.5 1452.9 L777.0 1454.8 L778.5 1456.8 L780.0 1458.8 L781.5 1460.7 L783.0 1462.7 L784.5 1464.7 L786.0 1466.7 L787.5 1468.6 L789.0 1470.6 L790.5 1472.6 L792.0 1474.5 L793.5 1476.5 L795.0 1478.4 L796.5 1480.4 L798.0 1482.3 L799.5 1484.2 L801.0 1486.1 L802.5 1488.0 L804.0 1489.9 L805.5 1491.8 L807.0 1493.7 L808.5 1495.5 L810.0 1497.4 L811.5 1499.3 L813.0 1501.1 L814.5 1503.0 L816.0 1504.9 L817.5 1506.7 L819.0 1508.6 L820.5 1510.5 L822.0 1512.4 L823.5 1514.3 L825.0 1516.2 L826.5 1518.1 L828.0 1520.0 L829.5 1522.0 L831.0 1523.9 L832.5 1525.9 L834.0 1527.9 L835.5 1530.0 L837.0 1532.0 L838.5 1534.1 L840.0 1536.2 L841.5 1538.3 L843.0 1540.5 L844.5 1542.7 L846.0 1544.9 L847.5 1547.1 L849.0 1549.4 L850.5 1551.8 L852.0 1554.1 L853.5 1556.5 L855.0 1558.9 L856.5 1561.4 L858.0 1563.8 L859.5 1566.3 L861.0 1568.9 L862.5 1571.4 L864.0 1574.0 L865.5 1576.6 L867.0 1579.2 L868.5 1581.8 L870.0 1584.5 L871.5 1587.1 L873.0 1589.8 L874.5 1592.5 L876.0 1595.2 L877.5 1597.9 L879.0 1600.6 L880.5 1603.3 L882.0 1606.1 L883.5 1608.8 L885.0 1611.5 L886.5 1614.3 L888.0 1617.0 L889.5 1619.8 L891.0 1622.5 L892.5 1625.2 L894.0 1628.0 L895.5 1630.7 L897.0 1633.5 L898.5 1636.3 L900.0 1639.0 L901.5 1641.8 L903.0 1644.6 L904.5 1647.4 L906.0 1650.2 L907.5 1653.1 L909.0 1655.9 L910.5 1658.8 L912.0 1661.7 L913.5 1664.6 L915.0 1667.5 L916.5 1670.4 L918.0 1673.4 L919.5 1676.4 L921.0 1679.4 L922.5 1682.4 L924.0 1685.5 L925.5 1688.5 L927.0 1691.7 L928.5 1694.8 L930.0 1698.0 L931.5 1701.2 L933.0 1704.4 L934.5 1707.7 L936.0 1711.0 L937.5 1714.3 L939.0 1717.7 L940.5 1721.1 L942.0 1724.5 L943.5 1727.9 L945.0 1731.4 L946.5 1734.9 L948.0 1738.5 L949.5 1742.0 L951.0 1745.6 L952.5 1749.3 L954.0 1752.9 L955.5 1756.6 L957.0 1760.3 L958.5 1764.1 L960.0 1767.8 L961.5 1771.6 L963.0 1775.4 L964.5 1779.3 L966.0 1783.2 L967.5 1787.1 L969.0 1791.0 L970.5 1795.0 L972.0 1799.0 L973.5 1803.0 L975.0 1807.0 L976.5 1811.1 L978.0 1815.2 L979.5 1819.3 L981.0 1823.5 L982.5 1827.6 L984.0 1831.8 L985.5 1836.1 L987.0 1840.3 L988.5 1844.6 L990.0 1848.9 L991.5 1853.2 L993.0 1857.6 L994.5 1862.0 L996.0 1866.4 L997.5 1870.8 L999.0 1875.3 L1000.5 1879.7 L1002.0 1884.2 L1003.5 1888.8 L1005.0 1893.3 L1006.5 1897.9 L1008.0 1902.5 L1009.5 1907.1 L1011.0 1911.7 L1012.5 1916.4 L1014.0 1921.1 L1015.5 1925.8 L1017.0 1930.6 L1018.5 1935.3 L1020.0 1940.1 L1021.5 1944.9 L1023.0 1949.7 L1024.5 1954.6 L1026.0 1959.4 L1027.5 1964.3" fill="none" stroke="#2b2b2b" stroke-width="2.6" stroke-linejoin="round" />
<path d="M100.0 1418.0 L101.0 1418.0 L102.0 1417.9 L103.0 1417.9 L104.0 1417.8 L105.0 1417.8 L106.0 1417.8 L107.0 1417.7 L108.0 1417.7 L109.0 1417.6 L110.0 1417.6 L111.0 1417.5 L112.0 1417.5 L113.0 1417.4 L114.0 1417.4 L115.0 1417.3 L116.0 1417.3 L117.0 1417.2 L118.0 1417.2 L119.0 1417.2 L120.0 1417.1 L121.0 1417.1 L122.0 1417.0 L123.0 1417.0 L124.0 1416.9 L125.0 1416.9 L126.0 1416.8 L127.0 1416.8 L128.0 1416.7 L129.0 1416.7 L130.0 1416.6 L131.0 1416.6 L132.0 1416.5 L133.0 1416.5 L134.0 1416.5 L135.0 1416.4 L136.0 1416.4 L137.0 1416.3 L138.0 1416.3 L139.0 1416.2 L140.0 1416.2 L141.0 1416.1 L142.0 1416.1 L143.0 1416.0 L144.0 1416.0 L145.0 1415.9 L146.0 1415.9 L147.0 1415.9 L148.0 1415.8 L149.0 1415.8 L150.0 1415.7 L151.0 1415.7 L152.0 1415.6 L153.0 1415.6 L154.0 1415.5 L155.0 1415.5 L156.0 1415.5 L157.0 1415.4 L158.0 1415.4 L159.0 1415.3 L160.0 1415.3 L161.0 1415.2 L162.0 1415.2 L163.0 1415.1 L164.0 1415.1 L165.0 1415.1 L166.0 1415.0 L167.0 1415.0 L168.0 1414.9 L169.0 1414.9 L170.0 1414.8 L171.0 1414.8 L172.0 1414.8 L173.0 1414.7 L174.0 1414.7 L175.0 1414.6 L176.0 1414.6 L177.0 1414.6 L178.0 1414.5 L179.0 1414.5 L180.0 1414.4 L181.0 1414.4 L182.0 1414.4 L183.0 1414.3 L184.0 1414.3 L185.0 1414.2 L186.0 1414.2 L187.0 1414.2 L188.0 1414.1 L189.0 1414.1 L190.0 1414.0 L191.0 1414.0 L192.0 1414.0 L193.0 1413.9 L194.0 1413.9 L195.0 1413.9 L196.0 1413.8 L197.0 1413.8 L198.0 1413.7 L199.0 1413.7 L200.0 1413.7 L201.0 1413.6 L202.0 1413.6 L203.0 1413.6 L204.0 1413.5 L205.0 1413.5 L206.0 1413.5 L207.0 1413.4 L208.0 1413.4 L209.0 1413.4 L210.0 1413.3 L211.0 1413.3 L212.0 1413.3 L213.0 1413.2 L214.0 1413.2 L215.0 1413.2 L216.0 1413.1 L217.0 1413.1 L218.0 1413.1 L219.0 1413.1 L220.0 1413.0 L221.0 1413.0 L222.0 1413.0 L223.0 1412.9 L224.0 1412.9 L225.0 1412.9 L226.0 1412.9 L227.0 1412.8 L228.0 1412.8 L229.0 1412.8 L230.0 1412.7 L231.0 1412.7 L232.0 1412.7 L233.0 1412.7 L234.0 1412.6 L235.0 1412.6 L236.0 1412.6 L237.0 1412.6 L238.0 1412.6 L239.0 1412.5 L240.0 1412.5 L241.0 1412.5 L242.0 1412.5 L243.0 1412.4 L244.0 1412.4 L245.0 1412.4 L246.0 1412.4 L247.0 1412.4 L248.0 1412.3 L249.0 1412.3 L250.0 1412.3 L251.0 1412.3 L252.0 1412.3 L253.0 1412.3 L254.0 1412.2 L255.0 1412.2 L256.0 1412.2 L257.0 1412.2 L258.0 1412.2 L259.0 1412.2 L260.0 1412.2 L261.0 1412.1 L262.0 1412.1 L263.0 1412.1 L264.0 1412.1 L265.0 1412.1 L266.0 1412.1 L267.0 1412.1 L268.0 1412.1 L269.0 1412.1 L270.0 1412.1 L271.0 1412.0 L272.0 1412.0 L273.0 1412.0 L274.0 1412.0 L275.0 1412.0 L276.0 1412.0 L277.0 1412.0 L278.0 1412.0 L279.0 1412.0 L280.0 1412.0 L281.0 1412.0 L282.0 1412.0 L283.0 1412.0 L284.0 1412.0 L285.0 1412.0 L286.0 1412.0 L287.0 1412.0 L288.0 1412.0 L289.0 1412.0 L290.0 1412.0 L291.0 1412.0 L292.0 1412.0 L293.0 1412.0 L294.0 1412.0 L295.0 1412.0 L296.0 1412.0 L297.0 1412.0 L298.0 1412.1 L299.0 1412.1 L300.0 1412.1 L301.0 1412.1 L302.0 1412.1 L303.0 1412.1 L304.0 1412.1 L305.0 1412.1 L306.0 1412.1 L307.0 1412.1 L308.0 1412.2 L309.0 1412.2 L310.0 1412.2 L311.0 1412.2 L312.0 1412.2 L313.0 1412.2 L314.0 1412.3 L315.0 1412.3 L316.0 1412.3 L317.0 1412.3 L318.0 1412.3 L319.0 1412.4 L320.0 1412.4 L321.0 1412.4 L322.0 1412.4 L323.0 1412.4 L324.0 1412.5 L325.0 1412.5 L326.0 1412.5 L327.0 1412.6 L328.0 1412.6 L329.0 1412.6 L330.0 1412.6 L331.0 1412.7 L332.0 1412.7 L333.0 1412.7 L334.0 1412.8 L335.0 1412.8 L336.0 1412.8 L337.0 1412.9 L338.0 1412.9 L339.0 1412.9 L340.0 1413.0 L341.0 1413.0 L342.0 1413.0 L343.0 1413.1 L344.0 1413.1 L345.0 1413.2 L346.0 1413.2 L347.0 1413.2 L348.0 1413.3 L349.0 1413.3 L350.0 1413.4 L351.0 1413.4 L352.0 1413.5 L353.0 1413.5 L354.0 1413.6 L355.0 1413.6 L356.0 1413.7 L357.0 1413.7 L358.0 1413.8 L359.0 1413.8 L360.0 1413.9 L361.0 1413.9 L362.0 1414.0 L363.0 1414.0 L364.0 1414.1 L365.0 1414.1 L366.0 1414.2 L367.0 1414.2 L368.0 1414.3 L369.0 1414.4 L370.0 1414.4 L371.0 1414.5 L372.0 1414.5 L373.0 1414.6 L374.0 1414.7 L375.0 1414.7 L376.0 1414.8 L377.0 1414.9 L378.0 1414.9 L379.0 1415.0 L380.0 1415.1 L381.0 1415.1 L382.0 1415.2 L383.0 1415.3 L384.0 1415.4 L385.0 1415.4 L386.0 1415.5 L387.0 1415.6 L388.0 1415.7 L389.0 1415.7 L390.0 1415.8 L391.0 1415.9 L392.0 1416.0 L393.0 1416.1 L394.0 1416.1 L395.0 1416.2 L396.0 1416.3 L397.0 1416.4 L398.0 1416.5 L399.0 1416.6 L400.0 1416.7 L401.0 1416.7 L402.0 1416.8 L403.0 1416.9 L404.0 1417.0 L405.0 1417.1 L406.0 1417.2 L407.0 1417.3 L408.0 1417.4 L409.0 1417.5 L410.0 1417.6 L411.0 1417.7 L412.0 1417.8 L413.0 1417.9 L414.0 1418.0 L415.0 1418.1 L416.0 1418.2 L417.0 1418.3 L418.0 1418.4 L419.0 1418.5 L420.0 1418.6 L421.0 1418.7 L422.0 1418.8 L423.0 1418.9 L424.0 1419.1 L425.0 1419.2 L426.0 1419.3 L427.0 1419.4 L428.0 1419.5 L429.0 1419.6 L430.0 1419.8 L431.0 1419.9 L432.0 1420.0 L433.0 1420.1 L434.0 1420.2 L435.0 1420.4 L436.0 1420.5 L437.0 1420.6 L438.0 1420.7 L439.0 1420.9 L440.0 1421.0 L441.0 1421.1 L442.0 1421.3 L443.0 1421.4 L444.0 1421.5 L445.0 1421.7 L446.0 1421.8 L447.0 1421.9 L448.0 1422.1 L449.0 1422.2 L450.0 1422.3 L451.0 1422.5 L452.0 1422.6 L453.0 1422.8 L454.0 1422.9 L455.0 1423.1 L456.0 1423.2 L457.0 1423.4 L458.0 1423.5 L459.0 1423.7 L460.0 1423.8 L461.0 1424.0 L462.0 1424.1 L463.0 1424.3 L464.0 1424.4 L465.0 1424.6 L466.0 1424.7 L467.0 1424.9 L468.0 1425.1 L469.0 1425.2 L470.0 1425.4 L471.0 1425.6 L472.0 1425.7 L473.0 1425.9 L474.0 1426.1 L475.0 1426.2 L476.0 1426.4 L477.0 1426.6 L478.0 1426.7 L479.0 1426.9 L480.0 1427.1 L481.0 1427.3 L482.0 1427.4 L483.0 1427.6 L484.0 1427.8 L485.0 1428.0 L486.0 1428.2 L487.0 1428.4 L488.0 1428.5 L489.0 1428.7 L490.0 1428.9 L491.0 1429.1 L492.0 1429.3 L493.0 1429.5 L494.0 1429.7 L495.0 1429.9 L496.0 1430.1 L497.0 1430.3 L498.0 1430.5 L499.0 1430.7 L500.0 1430.9 L501.0 1431.1 L502.0 1431.3 L503.0 1431.5 L504.0 1431.7 L505.0 1431.9 L506.0 1432.1 L507.0 1432.3 L508.0 1432.5 L509.0 1432.7 L510.0 1432.9 L511.0 1433.2 L512.0 1433.4 L513.0 1433.6 L514.0 1433.8 L515.0 1434.0 L516.0 1434.3 L517.0 1434.5 L518.0 1434.7 L519.0 1434.9 L520.0 1435.2 L521.0 1435.4 L522.0 1435.6 L523.0 1435.9 L524.0 1436.1 L525.0 1436.3 L526.0 1436.6 L527.0 1436.8 L528.0 1437.0 L529.0 1437.3 L530.0 1437.5 L531.0 1437.8 L532.0 1438.0 L533.0 1438.3 L534.0 1438.5 L535.0 1438.8 L536.0 1439.0 L537.0 1439.3 L538.0 1439.5 L539.0 1439.8 L540.0 1440.0 L541.0 1440.3 L542.0 1440.5 L543.0 1440.8 L544.0 1441.1 L545.0 1441.3 L546.0 1441.6 L547.0 1441.8 L548.0 1442.1 L549.0 1442.4 L550.0 1442.7 L551.0 1442.9 L552.0 1443.2 L553.0 1443.5 L554.0 1443.8 L555.0 1444.0 L556.0 1444.3 L557.0 1444.6 L558.0 1444.9 L559.0 1445.2 L560.0 1445.4 L561.0 1445.7 L562.0 1446.0 L563.0 1446.3 L564.0 1446.6 L565.0 1446.9 L566.0 1447.2 L567.0 1447.5 L568.0 1447.8 L569.0 1448.1 L570.0 1448.4 L571.0 1448.7 L572.0 1449.0 L573.0 1449.3 L574.0 1449.6 L575.0 1449.9 L576.0 1450.2 L577.0 1450.5 L578.0 1450.8 L579.0 1451.2 L580.0 1451.5 L581.0 1451.8 L582.0 1452.1 L583.0 1452.4 L584.0 1452.8 L585.0 1453.1 L586.0 1453.4 L587.0 1453.7 L588.0 1454.1 L589.0 1454.4 L590.0 1454.7 L591.0 1455.1 L592.0 1455.4 L593.0 1455.7 L594.0 1456.1 L595.0 1456.4 L596.0 1456.8 L597.0 1457.1 L598.0 1457.4 L599.0 1457.8 L600.0 1458.1 L601.0 1458.5 L602.0 1458.8 L603.0 1459.2 L604.0 1459.6 L605.0 1459.9 L606.0 1460.3 L607.0 1460.6 L608.0 1461.0 L609.0 1461.4 L610.0 1461.7 L611.0 1462.1 L612.0 1462.5 L613.0 1462.8 L614.0 1463.2 L615.0 1463.6 L616.0 1463.9 L617.0 1464.3 L618.0 1464.7 L619.0 1465.1 L620.0 1465.5 L621.0 1465.8 L622.0 1466.2 L623.0 1466.6 L624.0 1467.0 L625.0 1467.4 L626.0 1467.8 L627.0 1468.2 L628.0 1468.6 L629.0 1469.0 L630.0 1469.4 L631.0 1469.8 L632.0 1470.2 L633.0 1470.6 L634.0 1471.0 L635.0 1471.4 L636.0 1471.8 L637.0 1472.2 L638.0 1472.6 L639.0 1473.1 L640.0 1473.5 L641.0 1473.9 L642.0 1474.3 L643.0 1474.7 L644.0 1475.2 L645.0 1475.6 L646.0 1476.0 L647.0 1476.4 L648.0 1476.9 L649.0 1477.3 L650.0 1477.7 L651.0 1478.2 L652.0 1478.6 L653.0 1479.1 L654.0 1479.5 L655.0 1480.0 L656.0 1480.4 L657.0 1480.8 L658.0 1481.3 L659.0 1481.8 L660.0 1482.2 L661.0 1482.7 L662.0 1483.1 L663.0 1483.6 L664.0 1484.0 L665.0 1484.5 L666.0 1485.0 L667.0 1485.4 L668.0 1485.9 L669.0 1486.4 L670.0 1486.8 L671.0 1487.3 L672.0 1487.8 L673.0 1488.3 L674.0 1488.8 L675.0 1489.2 L676.0 1489.7 L677.0 1490.2 L678.0 1490.7 L679.0 1491.2 L680.0 1491.7 L681.0 1492.2 L682.0 1492.7 L683.0 1493.2 L684.0 1493.7 L685.0 1494.2 L686.0 1494.7 L687.0 1495.2 L688.0 1495.7 L689.0 1496.2 L690.0 1496.7 L691.0 1497.2 L692.0 1497.7 L693.0 1498.2 L694.0 1498.8 L695.0 1499.3 L696.0 1499.8 L697.0 1500.3 L698.0 1500.9 L699.0 1501.4 L700.0 1501.9 L701.0 1502.4 L702.0 1503.0 L703.0 1503.5 L704.0 1504.1 L705.0 1504.6 L706.0 1505.1 L707.0 1505.7 L708.0 1506.2 L709.0 1506.8 L710.0 1507.3 L711.0 1507.9 L712.0 1508.4 L713.0 1509.0 L714.0 1509.6 L715.0 1510.1 L716.0 1510.7 L717.0 1511.2 L718.0 1511.8 L719.0 1512.4 L720.0 1512.9 L721.0 1513.5 L722.0 1514.1 L723.0 1514.7 L724.0 1515.3 L725.0 1515.8 L726.0 1516.4 L727.0 1517.0 L728.0 1517.6 L729.0 1518.2 L730.0 1518.8 L731.0 1519.4 L732.0 1520.0 L733.0 1520.6 L734.0 1521.2 L735.0 1521.8 L736.0 1522.4 L737.0 1523.0 L738.0 1523.6 L739.0 1524.2 L740.0 1524.8 L741.0 1525.5 L742.0 1526.1 L743.0 1526.7 L744.0 1527.3 L745.0 1528.0 L746.0 1528.6 L747.0 1529.2 L748.0 1529.9 L749.0 1530.5 L750.0 1531.1 L751.0 1531.8 L752.0 1532.4 L753.0 1533.1 L754.0 1533.7 L755.0 1534.4 L756.0 1535.1 L757.0 1535.7 L758.0 1536.4 L759.0 1537.0 L760.0 1537.7 L761.0 1538.4 L762.0 1539.1 L763.0 1539.7 L764.0 1540.4 L765.0 1541.1 L766.0 1541.8 L767.0 1542.5 L768.0 1543.2 L769.0 1543.9 L770.0 1544.6 L771.0 1545.3 L772.0 1546.0 L773.0 1546.7 L774.0 1547.4 L775.0 1548.1 L776.0 1548.8 L777.0 1549.6 L778.0 1550.3 L779.0 1551.0 L780.0 1551.7 L781.0 1552.5 L782.0 1553.2 L783.0 1553.9 L784.0 1554.7 L785.0 1555.4 L786.0 1556.2 L787.0 1556.9 L788.0 1557.7 L789.0 1558.5 L790.0 1559.2 L791.0 1560.0 L792.0 1560.8 L793.0 1561.5 L794.0 1562.3 L795.0 1563.1 L796.0 1563.9 L797.0 1564.7 L798.0 1565.5 L799.0 1566.3 L800.0 1567.1 L801.0 1567.9 L802.0 1568.7 L803.0 1569.5 L804.0 1570.3 L805.0 1571.1 L806.0 1571.9 L807.0 1572.8 L808.0 1573.6 L809.0 1574.4 L810.0 1575.2 L811.0 1576.1 L812.0 1576.9 L813.0 1577.8 L814.0 1578.6 L815.0 1579.5 L816.0 1580.3 L817.0 1581.2 L818.0 1582.1 L819.0 1582.9 L820.0 1583.8 L821.0 1584.7 L822.0 1585.6 L823.0 1586.5 L824.0 1587.4 L825.0 1588.3 L826.0 1589.2 L827.0 1590.1 L828.0 1591.0 L829.0 1591.9 L830.0 1592.8 L831.0 1593.7 L832.0 1594.6 L833.0 1595.6 L834.0 1596.5 L835.0 1597.4 L836.0 1598.4 L837.0 1599.3 L838.0 1600.3 L839.0 1601.2 L840.0 1602.2 L841.0 1603.2 L842.0 1604.1 L843.0 1605.1 L844.0 1606.1 L845.0 1607.1 L846.0 1608.0 L847.0 1609.0 L848.0 1610.0 L849.0 1611.0 L850.0 1612.0 L851.0 1613.0 L852.0 1614.1 L853.0 1615.1 L854.0 1616.1 L855.0 1617.1 L856.0 1618.2 L857.0 1619.2 L858.0 1620.2 L859.0 1621.3 L860.0 1622.3 L861.0 1623.4 L862.0 1624.4 L863.0 1625.5 L864.0 1626.6 L865.0 1627.7 L866.0 1628.7 L867.0 1629.8 L868.0 1630.9 L869.0 1632.0 L870.0 1633.1 L871.0 1634.2 L872.0 1635.3 L873.0 1636.4 L874.0 1637.6 L875.0 1638.7 L876.0 1639.8 L877.0 1640.9 L878.0 1642.1 L879.0 1643.2 L880.0 1644.4 L881.0 1645.5 L882.0 1646.7 L883.0 1647.9 L884.0 1649.0 L885.0 1650.2 L886.0 1651.4 L887.0 1652.6 L888.0 1653.8 L889.0 1655.0 L890.0 1656.2 L891.0 1657.4 L892.0 1658.6 L893.0 1659.8 L894.0 1661.0 L895.0 1662.3 L896.0 1663.5 L897.0 1664.7 L898.0 1666.0 L899.0 1667.2 L900.0 1668.5 L901.0 1669.7 L902.0 1671.0 L903.0 1672.3 L904.0 1673.6 L905.0 1674.9 L906.0 1676.1 L907.0 1677.4 L908.0 1678.7 L909.0 1680.1 L910.0 1681.4 L911.0 1682.7 L912.0 1684.0 L913.0 1685.3 L914.0 1686.7 L915.0 1688.0 L916.0 1689.4 L917.0 1690.7 L918.0 1692.1 L919.0 1693.4 L920.0 1694.8 L921.0 1696.2 L922.0 1697.6 L923.0 1699.0 L924.0 1700.4 L925.0 1701.8 L926.0 1703.2 L927.0 1704.6 L928.0 1706.0 L929.0 1707.4 L930.0 1708.9 L931.0 1710.3 L932.0 1711.7 L933.0 1713.2 L934.0 1714.7 L935.0 1716.1 L936.0 1717.6 L937.0 1719.1 L938.0 1720.5 L939.0 1722.0 L940.0 1723.5 L941.0 1725.0 L942.0 1726.5 L943.0 1728.0 L944.0 1729.6 L945.0 1731.1 L946.0 1732.6 L947.0 1734.2 L948.0 1735.7 L949.0 1737.3 L950.0 1738.8 L951.0 1740.4 L952.0 1742.0 L953.0 1743.5 L954.0 1745.1 L955.0 1746.7 L956.0 1748.3 L957.0 1749.9 L958.0 1751.5 L959.0 1753.1 L960.0 1754.8 L961.0 1756.4 L962.0 1758.0 L963.0 1759.7 L964.0 1761.3 L965.0 1763.0 L966.0 1764.6 L967.0 1766.3 L968.0 1768.0 L969.0 1769.7 L970.0 1771.4 L971.0 1773.1 L972.0 1774.8 L973.0 1776.5 L974.0 1778.2 L975.0 1779.9 L976.0 1781.7 L977.0 1783.4 L978.0 1785.2 L979.0 1786.9 L980.0 1788.7 L981.0 1790.4 L982.0 1792.2 L983.0 1794.0 L984.0 1795.8 L985.0 1797.6 L986.0 1799.4 L987.0 1801.2 L988.0 1803.0 L989.0 1804.9 L990.0 1806.7 L991.0 1808.5 L992.0 1810.4 L993.0 1812.2 L994.0 1814.1 L995.0 1816.0 L996.0 1817.8 L997.0 1819.7 L998.0 1821.6 L999.0 1823.5 L1000.0 1825.4 L1001.0 1827.3 L1002.0 1829.3 L1003.0 1831.2 L1004.0 1833.1 L1005.0 1835.1 L1006.0 1837.0 L1007.0 1839.0 L1008.0 1841.0 L1009.0 1842.9 L1010.0 1844.9 L1011.0 1846.9 L1012.0 1848.9 L1013.0 1850.9 L1014.0 1852.9 L1015.0 1854.9 L1016.0 1857.0 L1017.0 1859.0 L1018.0 1861.1 L1019.0 1863.1 L1020.0 1865.2 L1021.0 1867.2 L1022.0 1869.3 L1023.0 1871.4 L1024.0 1873.5 L1025.0 1875.6 L1026.0 1877.7 L1027.0 1879.8 L1028.0 1881.9 L1029.0 1884.1 L1030.0 1886.2 L1031.0 1888.4 L1032.0 1890.5 L1033.0 1892.7 L1034.0 1894.8 L1035.0 1897.0 L1036.0 1899.2 L1037.0 1901.4 L1038.0 1903.6 L1039.0 1905.8 L1040.0 1908.1 L1041.0 1910.3 L1042.0 1912.5 L1043.0 1914.8 L1044.0 1917.0 L1045.0 1919.3 L1046.0 1921.6 L1047.0 1923.8 L1048.0 1926.1 L1049.0 1928.4 L1050.0 1930.7 L1051.0 1933.0 L1052.0 1935.4 L1053.0 1937.7 L1054.0 1940.0 L1055.0 1942.4 L1056.0 1944.7 L1057.0 1947.1 L1058.0 1949.5 L1059.0 1951.8 L1060.0 1954.2" fill="none" stroke="#2b2b2b" stroke-width="5.2" stroke-linejoin="round" stroke-dasharray="5.2 48.46" stroke-dashoffset="12.39"/>
<path d="M814.8 1316.8 L848.4 1363.9 L884.7 1426.0 L899.5 1450.0 L922.4 1491.6 L945.0 1540.0 L966.0 1590.0 L987.0 1640.0 L1006.0 1690.0 L1020.0 1730.0 L1033.0 1769.0 L1042.0 1792.5 L1051.0 1815.9 L1060.0 1839.3 L1061.7 1851.7 L1061.7 1940.0 L1061.7 1940.0 L1056.0 1928.0 L1050.0 1910.0 L1045.0 1890.0 L1040.0 1855.0 L1031.0 1830.0 L1023.0 1801.8 L1013.1 1769.0 L1003.7 1736.2 L994.4 1708.1 L986.0 1690.0 L967.6 1640.0 L949.9 1590.0 L932.8 1543.7 L907.9 1497.9 L882.9 1450.0 L871.7 1431.2 L840.7 1384.6 L814.8 1354.8 Z" fill="#505050" stroke="none" fill-opacity="0.63"/>
<path d="M183.8 1237.5 L359.1 1258.1 L535.4 1263.5 L710.6 1338.5 L886.5 1477.0 L1061.6 1728.8 L1061.6 1820.5 L885.5 1508.0 L710.6 1364.0 L535.4 1289.7 L359.1 1287.4 L183.8 1319.0 Z" fill="#c6474b" stroke="none" fill-opacity="0.5"/>
</g>
<g clip-path="url(#cBR)">
<path d="M1148.7 1344.1 L1321.0 1396.7 L1480.0 1462.1 L1500.6 1469.6 L1677.2 1570.0 L1725.6 1607.2 L1788.8 1659.3 L1850.5 1715.0 L1850.5 1909.8 L1804.3 1854.2 L1754.3 1794.3 L1704.4 1729.3 L1674.5 1689.5 L1639.5 1665.5 L1324.8 1482.1 L1148.7 1402.2 Z" fill="url(#hatch2)" stroke="none" />
<path d="M1105.0 1264.8 L1106.5 1265.5 L1108.0 1266.3 L1109.5 1267.0 L1111.0 1267.8 L1112.5 1268.5 L1114.0 1269.3 L1115.5 1270.0 L1117.0 1270.8 L1118.5 1271.5 L1120.0 1272.3 L1121.5 1273.1 L1123.0 1273.8 L1124.5 1274.6 L1126.0 1275.3 L1127.5 1276.1 L1129.0 1276.8 L1130.5 1277.6 L1132.0 1278.3 L1133.5 1279.1 L1135.0 1279.8 L1136.5 1280.6 L1138.0 1281.4 L1139.5 1282.1 L1141.0 1282.9 L1142.5 1283.6 L1144.0 1284.4 L1145.5 1285.1 L1147.0 1285.9 L1148.5 1286.6 L1150.0 1287.4 L1151.5 1288.1 L1153.0 1288.9 L1154.5 1289.6 L1156.0 1290.4 L1157.5 1291.1 L1159.0 1291.9 L1160.5 1292.7 L1162.0 1293.4 L1163.5 1294.2 L1165.0 1294.9 L1166.5 1295.7 L1168.0 1296.4 L1169.5 1297.2 L1171.0 1297.9 L1172.5 1298.7 L1174.0 1299.4 L1175.5 1300.2 L1177.0 1300.9 L1178.5 1301.7 L1180.0 1302.4 L1181.5 1303.2 L1183.0 1303.9 L1184.5 1304.7 L1186.0 1305.4 L1187.5 1306.2 L1189.0 1306.9 L1190.5 1307.7 L1192.0 1308.4 L1193.5 1309.2 L1195.0 1309.9 L1196.5 1310.7 L1198.0 1311.4 L1199.5 1312.2 L1201.0 1312.9 L1202.5 1313.7 L1204.0 1314.4 L1205.5 1315.1 L1207.0 1315.9 L1208.5 1316.6 L1210.0 1317.4 L1211.5 1318.1 L1213.0 1318.9 L1214.5 1319.6 L1216.0 1320.4 L1217.5 1321.1 L1219.0 1321.8 L1220.5 1322.6 L1222.0 1323.3 L1223.5 1324.1 L1225.0 1324.8 L1226.5 1325.5 L1228.0 1326.3 L1229.5 1327.0 L1231.0 1327.8 L1232.5 1328.5 L1234.0 1329.2 L1235.5 1330.0 L1237.0 1330.7 L1238.5 1331.4 L1240.0 1332.2 L1241.5 1332.9 L1243.0 1333.6 L1244.5 1334.4 L1246.0 1335.1 L1247.5 1335.8 L1249.0 1336.6 L1250.5 1337.3 L1252.0 1338.0 L1253.5 1338.8 L1255.0 1339.5 L1256.5 1340.2 L1258.0 1341.0 L1259.5 1341.7 L1261.0 1342.4 L1262.5 1343.1 L1264.0 1343.9 L1265.5 1344.6 L1267.0 1345.3 L1268.5 1346.0 L1270.0 1346.8 L1271.5 1347.5 L1273.0 1348.2 L1274.5 1348.9 L1276.0 1349.7 L1277.5 1350.4 L1279.0 1351.1 L1280.5 1351.8 L1282.0 1352.5 L1283.5 1353.3 L1285.0 1354.0 L1286.5 1354.7 L1288.0 1355.4 L1289.5 1356.1 L1291.0 1356.8 L1292.5 1357.5 L1294.0 1358.3 L1295.5 1359.0 L1297.0 1359.7 L1298.5 1360.4 L1300.0 1361.1 L1301.5 1361.8 L1303.0 1362.5 L1304.5 1363.2 L1306.0 1364.0 L1307.5 1364.7 L1309.0 1365.4 L1310.5 1366.1 L1312.0 1366.8 L1313.5 1367.5 L1315.0 1368.2 L1316.5 1368.9 L1318.0 1369.6 L1319.5 1370.3 L1321.0 1371.0 L1322.5 1371.7 L1324.0 1372.4 L1325.5 1373.1 L1327.0 1373.9 L1328.5 1374.6 L1330.0 1375.3 L1331.5 1376.0 L1333.0 1376.7 L1334.5 1377.4 L1336.0 1378.1 L1337.5 1378.8 L1339.0 1379.5 L1340.5 1380.2 L1342.0 1380.9 L1343.5 1381.6 L1345.0 1382.3 L1346.5 1383.0 L1348.0 1383.7 L1349.5 1384.4 L1351.0 1385.1 L1352.5 1385.8 L1354.0 1386.5 L1355.5 1387.2 L1357.0 1387.9 L1358.5 1388.6 L1360.0 1389.3 L1361.5 1390.0 L1363.0 1390.7 L1364.5 1391.4 L1366.0 1392.1 L1367.5 1392.8 L1369.0 1393.5 L1370.5 1394.2 L1372.0 1394.9 L1373.5 1395.6 L1375.0 1396.2 L1376.5 1396.9 L1378.0 1397.6 L1379.5 1398.3 L1381.0 1399.1 L1382.5 1399.8 L1384.0 1400.5 L1385.5 1401.2 L1387.0 1401.9 L1388.5 1402.7 L1390.0 1403.4 L1391.5 1404.2 L1393.0 1405.0 L1394.5 1405.7 L1396.0 1406.5 L1397.5 1407.4 L1399.0 1408.2 L1400.5 1409.1 L1402.0 1409.9 L1403.5 1410.8 L1405.0 1411.7 L1406.5 1412.7 L1408.0 1413.7 L1409.5 1414.6 L1411.0 1415.7 L1412.5 1416.7 L1414.0 1417.8 L1415.5 1418.9 L1417.0 1420.0 L1418.5 1421.1 L1420.0 1422.3 L1421.5 1423.5 L1423.0 1424.7 L1424.5 1425.9 L1426.0 1427.2 L1427.5 1428.4 L1429.0 1429.7 L1430.5 1431.0 L1432.0 1432.3 L1433.5 1433.7 L1435.0 1435.1 L1436.5 1436.4 L1438.0 1437.8 L1439.5 1439.2 L1441.0 1440.7 L1442.5 1442.1 L1444.0 1443.5 L1445.5 1445.0 L1447.0 1446.5 L1448.5 1448.0 L1450.0 1449.5 L1451.5 1451.0 L1453.0 1452.5 L1454.5 1454.0 L1456.0 1455.5 L1457.5 1457.1 L1459.0 1458.6 L1460.5 1460.2 L1462.0 1461.7 L1463.5 1463.2 L1465.0 1464.8 L1466.5 1466.3 L1468.0 1467.9 L1469.5 1469.4 L1471.0 1470.9 L1472.5 1472.5 L1474.0 1474.0 L1475.5 1475.5 L1477.0 1477.0 L1478.5 1478.5 L1480.0 1480.0 L1481.5 1481.5 L1483.0 1482.9 L1484.5 1484.4 L1486.0 1485.8 L1487.5 1487.3 L1489.0 1488.7 L1490.5 1490.1 L1492.0 1491.5 L1493.5 1492.8 L1495.0 1494.2 L1496.5 1495.6 L1498.0 1496.9 L1499.5 1498.3 L1501.0 1499.6 L1502.5 1500.9 L1504.0 1502.3 L1505.5 1503.6 L1507.0 1504.9 L1508.5 1506.2 L1510.0 1507.5 L1511.5 1508.8 L1513.0 1510.2 L1514.5 1511.5 L1516.0 1512.8 L1517.5 1514.1 L1519.0 1515.4 L1520.5 1516.7 L1522.0 1518.0 L1523.5 1519.4 L1525.0 1520.7 L1526.5 1522.0 L1528.0 1523.3 L1529.5 1524.7 L1531.0 1526.0 L1532.5 1527.4 L1534.0 1528.8 L1535.5 1530.2 L1537.0 1531.6 L1538.5 1533.0 L1540.0 1534.4 L1541.5 1535.8 L1543.0 1537.2 L1544.5 1538.7 L1546.0 1540.2 L1547.5 1541.7 L1549.0 1543.2 L1550.5 1544.7 L1552.0 1546.2 L1553.5 1547.8 L1555.0 1549.4 L1556.5 1551.0 L1558.0 1552.6 L1559.5 1554.3 L1561.0 1555.9 L1562.5 1557.6 L1564.0 1559.4 L1565.5 1561.1 L1567.0 1562.9 L1568.5 1564.7 L1570.0 1566.5 L1571.5 1568.4 L1573.0 1570.2 L1574.5 1572.1 L1576.0 1574.0 L1577.5 1576.0 L1579.0 1577.9 L1580.5 1579.9 L1582.0 1581.9 L1583.5 1583.9 L1585.0 1585.9 L1586.5 1588.0 L1588.0 1590.0 L1589.5 1592.1 L1591.0 1594.1 L1592.5 1596.2 L1594.0 1598.3 L1595.5 1600.4 L1597.0 1602.5 L1598.5 1604.7 L1600.0 1606.8 L1601.5 1608.9 L1603.0 1611.1 L1604.5 1613.2 L1606.0 1615.4 L1607.5 1617.5 L1609.0 1619.7 L1610.5 1621.8 L1612.0 1624.0 L1613.5 1626.1 L1615.0 1628.3 L1616.5 1630.4 L1618.0 1632.6 L1619.5 1634.7 L1621.0 1636.8 L1622.5 1639.0 L1624.0 1641.1 L1625.5 1643.2 L1627.0 1645.3 L1628.5 1647.4 L1630.0 1649.5 L1631.5 1651.6 L1633.0 1653.7 L1634.5 1655.7 L1636.0 1657.8 L1637.5 1659.9 L1639.0 1661.9 L1640.5 1664.0 L1642.0 1666.1 L1643.5 1668.1 L1645.0 1670.2 L1646.5 1672.2 L1648.0 1674.3 L1649.5 1676.4 L1651.0 1678.4 L1652.5 1680.5 L1654.0 1682.6 L1655.5 1684.6 L1657.0 1686.7 L1658.5 1688.8 L1660.0 1690.9 L1661.5 1693.0 L1663.0 1695.1 L1664.5 1697.2 L1666.0 1699.3 L1667.5 1701.4 L1669.0 1703.5 L1670.5 1705.6 L1672.0 1707.8 L1673.5 1709.9 L1675.0 1712.0 L1676.5 1714.2 L1678.0 1716.3 L1679.5 1718.5 L1681.0 1720.7 L1682.5 1722.9 L1684.0 1725.0 L1685.5 1727.2 L1687.0 1729.4 L1688.5 1731.6 L1690.0 1733.9 L1691.5 1736.1 L1693.0 1738.3 L1694.5 1740.6 L1696.0 1742.9 L1697.5 1745.2 L1699.0 1747.5 L1700.5 1749.9 L1702.0 1752.2 L1703.5 1754.6 L1705.0 1757.1 L1706.5 1759.5 L1708.0 1762.0 L1709.5 1764.5 L1711.0 1767.1 L1712.5 1769.7 L1714.0 1772.3 L1715.5 1774.9 L1717.0 1777.6 L1718.5 1780.4 L1720.0 1783.1 L1721.5 1786.0 L1723.0 1788.8 L1724.5 1791.8 L1726.0 1794.7 L1727.5 1797.7 L1729.0 1800.7 L1730.5 1803.8 L1732.0 1806.9 L1733.5 1810.0 L1735.0 1813.2 L1736.5 1816.4 L1738.0 1819.7 L1739.5 1823.0 L1741.0 1826.3 L1742.5 1829.6 L1744.0 1833.0 L1745.5 1836.4 L1747.0 1839.8 L1748.5 1843.3 L1750.0 1846.8 L1751.5 1850.3 L1753.0 1853.9 L1754.5 1857.5 L1756.0 1861.1 L1757.5 1864.7 L1759.0 1868.3 L1760.5 1872.0 L1762.0 1875.7 L1763.5 1879.4 L1765.0 1883.1 L1766.5 1886.9 L1768.0 1890.7 L1769.5 1894.4 L1771.0 1898.3 L1772.5 1902.1 L1774.0 1905.9 L1775.5 1909.8 L1777.0 1913.6 L1778.5 1917.5 L1780.0 1921.4 L1781.5 1925.3 L1783.0 1929.2 L1784.5 1933.1 L1786.0 1937.0 L1787.5 1941.0 L1789.0 1944.9 L1790.5 1948.9 L1792.0 1952.8 L1793.5 1956.8 L1795.0 1960.8 L1796.5 1964.7" fill="none" stroke="#2b2b2b" stroke-width="2.6" stroke-linejoin="round" />
<path d="M1149.0 1126.0 L1324.5 1177.3 L1499.8 1287.4 L1675.3 1466.5 L1850.5 1648.1 L1850.5 1728.1 L1675.3 1511.0 L1499.8 1319.9 L1324.5 1209.3 L1149.0 1157.8 Z" fill="#4381b9" stroke="none" fill-opacity="0.5"/>
</g>
<g stroke="#333333" stroke-width="2" fill="none">
<rect x="141.0" y="33.0" width="1928.4" height="1928.3"/>
<line x1="1105.2" y1="33.0" x2="1105.2" y2="1961.3"/>
<line x1="141.0" y1="997.1" x2="2069.4" y2="997.1" stroke="#111"/>
</g>
<g stroke="#000" stroke-width="3.2" fill="none">
<line x1="128.7" y1="111.2" x2="141.0" y2="111.2"/>
<line x1="128.7" y1="241.5" x2="141.0" y2="241.5"/>
<line x1="128.7" y1="371.7" x2="141.0" y2="371.7"/>
<line x1="128.7" y1="502.0" x2="141.0" y2="502.0"/>
<line x1="128.7" y1="632.3" x2="141.0" y2="632.3"/>
<line x1="128.7" y1="762.6" x2="141.0" y2="762.6"/>
<line x1="128.7" y1="892.9" x2="141.0" y2="892.9"/>
<line x1="272.5" y1="984.8" x2="272.5" y2="997.1"/>
<line x1="447.8" y1="984.8" x2="447.8" y2="997.1"/>
<line x1="623.1" y1="984.8" x2="623.1" y2="997.1"/>
<line x1="798.4" y1="984.8" x2="798.4" y2="997.1"/>
<line x1="973.7" y1="984.8" x2="973.7" y2="997.1"/>
<line x1="1092.9" y1="111.2" x2="1105.2" y2="111.2"/>
<line x1="1092.9" y1="241.5" x2="1105.2" y2="241.5"/>
<line x1="1092.9" y1="371.7" x2="1105.2" y2="371.7"/>
<line x1="1092.9" y1="502.0" x2="1105.2" y2="502.0"/>
<line x1="1092.9" y1="632.3" x2="1105.2" y2="632.3"/>
<line x1="1092.9" y1="762.6" x2="1105.2" y2="762.6"/>
<line x1="1092.9" y1="892.9" x2="1105.2" y2="892.9"/>
<line x1="1236.7" y1="984.8" x2="1236.7" y2="997.1"/>
<line x1="1412.0" y1="984.8" x2="1412.0" y2="997.1"/>
<line x1="1587.3" y1="984.8" x2="1587.3" y2="997.1"/>
<line x1="1762.6" y1="984.8" x2="1762.6" y2="997.1"/>
<line x1="1937.9" y1="984.8" x2="1937.9" y2="997.1"/>
<line x1="128.7" y1="1075.3" x2="141.0" y2="1075.3"/>
<line x1="128.7" y1="1205.6" x2="141.0" y2="1205.6"/>
<line x1="128.7" y1="1335.8" x2="141.0" y2="1335.8"/>
<line x1="128.7" y1="1466.1" x2="141.0" y2="1466.1"/>
<line x1="128.7" y1="1596.4" x2="141.0" y2="1596.4"/>
<line x1="128.7" y1="1726.7" x2="141.0" y2="1726.7"/>
<line x1="128.7" y1="1857.0" x2="141.0" y2="1857.0"/>
<line x1="272.5" y1="1961.3" x2="272.5" y2="1973.6"/>
<line x1="447.8" y1="1961.3" x2="447.8" y2="1973.6"/>
<line x1="623.1" y1="1961.3" x2="623.1" y2="1973.6"/>
<line x1="798.4" y1="1961.3" x2="798.4" y2="1973.6"/>
<line x1="973.7" y1="1961.3" x2="973.7" y2="1973.6"/>
<line x1="1092.9" y1="1075.3" x2="1105.2" y2="1075.3"/>
<line x1="1092.9" y1="1205.6" x2="1105.2" y2="1205.6"/>
<line x1="1092.9" y1="1335.8" x2="1105.2" y2="1335.8"/>
<line x1="1092.9" y1="1466.1" x2="1105.2" y2="1466.1"/>
<line x1="1092.9" y1="1596.4" x2="1105.2" y2="1596.4"/>
<line x1="1092.9" y1="1726.7" x2="1105.2" y2="1726.7"/>
<line x1="1092.9" y1="1857.0" x2="1105.2" y2="1857.0"/>
<line x1="1236.7" y1="1961.3" x2="1236.7" y2="1973.6"/>
<line x1="1412.0" y1="1961.3" x2="1412.0" y2="1973.6"/>
<line x1="1587.3" y1="1961.3" x2="1587.3" y2="1973.6"/>
<line x1="1762.6" y1="1961.3" x2="1762.6" y2="1973.6"/>
<line x1="1937.9" y1="1961.3" x2="1937.9" y2="1973.6"/>
</g>
<g style="font-family:'DejaVu Serif','Liberation Serif',serif;font-size:29.7px" fill="#000">
<text x="125.05" y="122.3" text-anchor="end">−1.5</text>
<text x="125.05" y="252.6" text-anchor="end">−2.0</text>
<text x="125.05" y="382.8" text-anchor="end">−2.5</text>
<text x="125.05" y="513.1" text-anchor="end">−3.0</text>
<text x="125.05" y="643.4" text-anchor="end">−3.5</text>
<text x="125.05" y="773.7" text-anchor="end">−4.0</text>
<text x="125.05" y="904.0" text-anchor="end">−4.5</text>
<text x="125.05" y="1086.4" text-anchor="end">−1.5</text>
<text x="125.05" y="1216.7" text-anchor="end">−2.0</text>
<text x="125.05" y="1346.9" text-anchor="end">−2.5</text>
<text x="125.05" y="1477.2" text-anchor="end">−3.0</text>
<text x="125.05" y="1607.5" text-anchor="end">−3.5</text>
<text x="125.05" y="1737.8" text-anchor="end">−4.0</text>
<text x="125.05" y="1868.1" text-anchor="end">−4.5</text>
<text x="272.5" y="2000.9" text-anchor="middle">2.1</text>
<text x="447.8" y="2000.9" text-anchor="middle">2.2</text>
<text x="623.1" y="2000.9" text-anchor="middle">2.3</text>
<text x="798.4" y="2000.9" text-anchor="middle">2.4</text>
<text x="973.7" y="2000.9" text-anchor="middle">2.5</text>
<text x="1236.7" y="2000.9" text-anchor="middle">2.1</text>
<text x="1412.0" y="2000.9" text-anchor="middle">2.2</text>
<text x="1587.3" y="2000.9" text-anchor="middle">2.3</text>
<text x="1762.6" y="2000.9" text-anchor="middle">2.4</text>
<text x="1937.9" y="2000.9" text-anchor="middle">2.5</text>
</g>
<g style="font-family:'DejaVu Serif','Liberation Serif',serif;font-size:34.6px" fill="#000">
<text x="623.1" y="25.5" text-anchor="middle">Quiescent</text>
<text x="1587.3" y="25.5" text-anchor="middle">Star-Forming</text>
<text x="489.9" y="2042.2">log</text>
<text x="548.1" y="2042.2" font-style="italic">σ</text>
<text x="571.1" y="2054.5" style="font-family:'DejaVu Sans',sans-serif;font-size:44px">⋆</text>
<text x="609.9" y="2042.2">[km</text>
<text x="687.1" y="2042.2">s</text>
<text x="704.6" y="2029.3" style="font-size:24.2px">−1</text>
<text x="741.5" y="2042.2">]</text>
<text x="1453.9" y="2042.2">log</text>
<text x="1512.1" y="2042.2" font-style="italic">σ</text>
<text x="1535.1" y="2054.5" style="font-family:'DejaVu Sans',sans-serif;font-size:44px">⋆</text>
<text x="1573.9" y="2042.2">[km</text>
<text x="1651.1" y="2042.2">s</text>
<text x="1668.6" y="2029.3" style="font-size:24.2px">−1</text>
<text x="1705.5" y="2042.2">]</text>
<g transform="translate(40.0 685.0) rotate(-90)">
<text x="-1.0" y="0">log</text>
<text x="55.4" y="0">Φ</text>
<text x="94.0" y="0">[Mpc</text>
<text x="183.8" y="-12.9" style="font-size:24.2px">−3</text>
<text x="231.3" y="0">dex</text>
<text x="292.7" y="-12.9" style="font-size:24.2px">−1</text>
<text x="329.2" y="0">]</text>
</g>
<g transform="translate(40.0 1649.1) rotate(-90)">
<text x="-1.0" y="0">log</text>
<text x="55.4" y="0">Φ</text>
<text x="94.0" y="0">[Mpc</text>
<text x="183.8" y="-12.9" style="font-size:24.2px">−3</text>
<text x="231.3" y="0">dex</text>
<text x="292.7" y="-12.9" style="font-size:24.2px">−1</text>
<text x="329.2" y="0">]</text>
</g>
</g>
<rect x="1000" y="45.3" width="190" height="41.3" fill="#fff"/>
<rect x="1005" y="1013" width="190" height="41.3" fill="#fff"/>
<g style="font-family:'DejaVu Serif','Liberation Serif',serif;font-size:31px" fill="#000">
<text x="1009" y="74.1">SDSS<tspan x="1105.5">z</tspan><tspan x="1129">≃</tspan><tspan x="1159">0</tspan></text>
<text x="1013.5" y="1041.6">0.5&lt;z<tspan x="1111">≤</tspan><tspan x="1142">1.0</tspan></text>
</g>
<rect x="168.3" y="717.3" width="61.5" height="21" fill="#d7d7d7" />
<text x="253.7" y="739.1" style="font-family:'DejaVu Serif','Liberation Serif',serif;font-size:30.7px" fill="#000">Sohn et al. (2017)</text>
<line x1="167.0" y1="772.8" x2="230.8" y2="772.8" stroke="#a9a9a9" stroke-width="2.8"/>
<text x="253.7" y="784.1" style="font-family:'DejaVu Serif','Liberation Serif',serif;font-size:30.7px" fill="#000">Bernardi et al. (2010), HB09</text>
<line x1="168.1" y1="817.8" x2="230.8" y2="817.8" stroke="#2b2b2b" stroke-width="2.5" stroke-dasharray="9.3 3.8"/>
<text x="253.7" y="829.1" style="font-family:'DejaVu Serif','Liberation Serif',serif;font-size:30.7px" fill="#000">Sheth et al. (2003)</text>
<line x1="167.0" y1="862.8" x2="230.8" y2="862.8" stroke="#2b2b2b" stroke-width="2.8"/>
<text x="253.7" y="874.1" style="font-family:'DejaVu Serif','Liberation Serif',serif;font-size:30.7px" fill="#000">Choi et al. (2007)</text>
<line x1="168.2" y1="907.8" x2="230.8" y2="907.8" stroke="#2b2b2b" stroke-width="6.6" stroke-dasharray="6.4 10.4"/>
<text x="253.7" y="919.1" style="font-family:'DejaVu Serif','Liberation Serif',serif;font-size:30.7px" fill="#000">Chae (2010)</text>
<line x1="166.0" y1="952.8" x2="232.0" y2="952.8" stroke="#2b2b2b" stroke-width="5.4"/>
<text x="253.7" y="964.1" style="font-family:'DejaVu Serif','Liberation Serif',serif;font-size:30.7px" fill="#000">Mitchell et al. (2005)</text>
<line x1="1132.5" y1="907.8" x2="1195.0" y2="907.8" stroke="#808080" stroke-width="2.5" stroke-dasharray="12.4 2.4"/>
<text x="1217.9" y="919.1" style="font-family:'DejaVu Serif','Liberation Serif',serif;font-size:30.7px" fill="#000">Bernardi et al. (2010), F07</text>
<line x1="1131.2" y1="952.8" x2="1195.0" y2="952.8" stroke="#2b2b2b" stroke-width="2.8"/>
<text x="1217.9" y="964.1" style="font-family:'DejaVu Serif','Liberation Serif',serif;font-size:30.7px" fill="#000">Chae (2010)</text>
<rect x="168.3" y="1636.4" width="61.5" height="21" fill="#c6474b" fill-opacity="0.5"/>
<text x="253.7" y="1658.2" style="font-family:'DejaVu Serif','Liberation Serif',serif;font-size:30.7px" fill="#000">This work</text>
<rect x="168.3" y="1681.4" width="61.5" height="21" fill="url(#hatchL)" />
<text x="253.7" y="1703.2" style="font-family:'DejaVu Serif','Liberation Serif',serif;font-size:30.7px" fill="#000">Bezanson et al. (2012)</text>
<line x1="168.3" y1="1736.9" x2="230.8" y2="1736.9" stroke="#808080" stroke-width="2.4" stroke-dasharray="12.4 2.5"/>
<text x="253.7" y="1748.2" style="font-family:'DejaVu Serif','Liberation Serif',serif;font-size:30.7px" fill="#000">Shankar et al. (2009) Evolving</text>
<line x1="167.0" y1="1781.9" x2="230.8" y2="1781.9" stroke="#808080" stroke-width="2.8"/>
<text x="253.7" y="1793.2" style="font-family:'DejaVu Serif','Liberation Serif',serif;font-size:30.7px" fill="#000">Shankar et al. (2009) Non-Evolving</text>
<rect x="168.3" y="1816.4" width="61.5" height="21" fill="#505050" fill-opacity="0.63"/>
<text x="253.7" y="1838.2" style="font-family:'DejaVu Serif','Liberation Serif',serif;font-size:30.7px" fill="#000">Montero-Dorta et al. (2017)</text>
<line x1="168.3" y1="1871.9" x2="230.8" y2="1871.9" stroke="#2b2b2b" stroke-width="5.2" stroke-dasharray="5.2 48.5"/>
<text x="253.7" y="1883.2" style="font-family:'DejaVu Serif','Liberation Serif',serif;font-size:30.7px" fill="#000">Geng et al. (2021)</text>
<line x1="167.0" y1="1916.9" x2="230.8" y2="1916.9" stroke="#2b2b2b" stroke-width="2.8"/>
<text x="253.7" y="1928.2" style="font-family:'DejaVu Serif','Liberation Serif',serif;font-size:30.7px" fill="#000">Chae (2010)</text>
<rect x="1132.5" y="1816.4" width="61.5" height="21" fill="#4381b9" fill-opacity="0.5"/>
<text x="1217.9" y="1838.2" style="font-family:'DejaVu Serif','Liberation Serif',serif;font-size:30.7px" fill="#000">This work</text>
<rect x="1132.5" y="1861.4" width="61.5" height="21" fill="url(#hatchL)" />
<text x="1217.9" y="1883.2" style="font-family:'DejaVu Serif','Liberation Serif',serif;font-size:30.7px" fill="#000">Bezanson et al. (2012)</text>
<line x1="1131.2" y1="1916.9" x2="1195.0" y2="1916.9" stroke="#2b2b2b" stroke-width="2.8"/>
<text x="1217.9" y="1928.2" style="font-family:'DejaVu Serif','Liberation Serif',serif;font-size:30.7px" fill="#000">Chae (2010)</text>
</svg>
</body></html>
